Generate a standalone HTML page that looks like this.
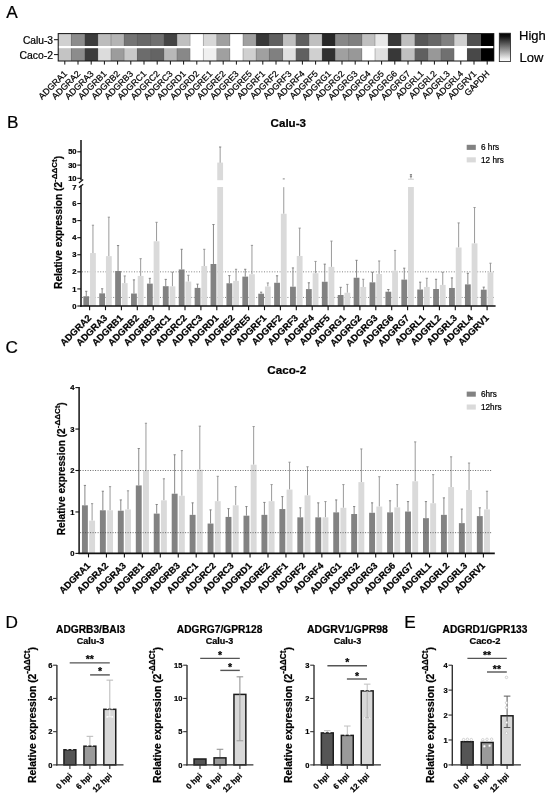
<!DOCTYPE html>
<html lang="en"><head><meta charset="utf-8"><title>Figure</title>
<style>html,body{margin:0;padding:0;background:#fff}svg{display:block}text{font-family:"Liberation Sans", Arial, Helvetica, sans-serif;stroke:#000;stroke-width:0.22px;paint-order:stroke}</style>
</head><body>
<svg width="550" height="794" viewBox="0 0 550 794">
<rect width="550" height="794" fill="#fff"/>
<text x="6.30" y="17.60" font-size="17.2" text-anchor="start" fill="#000">A</text>
<text x="7.10" y="128.10" font-size="17.2" text-anchor="start" fill="#000">B</text>
<text x="5.60" y="352.70" font-size="17.2" text-anchor="start" fill="#000">C</text>
<text x="5.40" y="628.10" font-size="17.2" text-anchor="start" fill="#000">D</text>
<text x="404.20" y="628.10" font-size="17.2" text-anchor="start" fill="#000">E</text>
<g shape-rendering="crispEdges">
<rect x="58.20" y="33.60" width="13.50" height="12.40" fill="#d0d0d0"/>
<rect x="58.20" y="48.20" width="13.50" height="12.80" fill="#c4c4c4"/>
<rect x="71.40" y="33.60" width="13.50" height="12.40" fill="#8c8c8c"/>
<rect x="71.40" y="48.20" width="13.50" height="12.80" fill="#8c8c8c"/>
<rect x="84.60" y="33.60" width="13.50" height="12.40" fill="#3c3c3c"/>
<rect x="84.60" y="48.20" width="13.50" height="12.80" fill="#3c3c3c"/>
<rect x="97.80" y="33.60" width="13.50" height="12.40" fill="#bcbcbc"/>
<rect x="97.80" y="48.20" width="13.50" height="12.80" fill="#dcdcdc"/>
<rect x="111.00" y="33.60" width="13.50" height="12.40" fill="#b4b4b4"/>
<rect x="111.00" y="48.20" width="13.50" height="12.80" fill="#9c9c9c"/>
<rect x="124.20" y="33.60" width="13.50" height="12.40" fill="#747474"/>
<rect x="124.20" y="48.20" width="13.50" height="12.80" fill="#c8c8c8"/>
<rect x="137.40" y="33.60" width="13.50" height="12.40" fill="#686868"/>
<rect x="137.40" y="48.20" width="13.50" height="12.80" fill="#6c6c6c"/>
<rect x="150.60" y="33.60" width="13.50" height="12.40" fill="#707070"/>
<rect x="150.60" y="48.20" width="13.50" height="12.80" fill="#646464"/>
<rect x="163.80" y="33.60" width="13.50" height="12.40" fill="#444444"/>
<rect x="163.80" y="48.20" width="13.50" height="12.80" fill="#b8b8b8"/>
<rect x="177.00" y="33.60" width="13.50" height="12.40" fill="#c0c0c0"/>
<rect x="177.00" y="48.20" width="13.50" height="12.80" fill="#888888"/>
<rect x="190.20" y="33.60" width="13.50" height="12.40" fill="#ffffff"/>
<rect x="190.20" y="48.20" width="13.50" height="12.80" fill="#ffffff"/>
<rect x="203.40" y="33.60" width="13.50" height="12.40" fill="#d8d8d8"/>
<rect x="203.40" y="48.20" width="13.50" height="12.80" fill="#f0f0f0"/>
<rect x="216.60" y="33.60" width="13.50" height="12.40" fill="#a0a0a0"/>
<rect x="216.60" y="48.20" width="13.50" height="12.80" fill="#a0a0a0"/>
<rect x="229.80" y="33.60" width="13.50" height="12.40" fill="#ffffff"/>
<rect x="229.80" y="48.20" width="13.50" height="12.80" fill="#ffffff"/>
<rect x="243.00" y="33.60" width="13.50" height="12.40" fill="#a0a0a0"/>
<rect x="243.00" y="48.20" width="13.50" height="12.80" fill="#d0d0d0"/>
<rect x="256.20" y="33.60" width="13.50" height="12.40" fill="#383838"/>
<rect x="256.20" y="48.20" width="13.50" height="12.80" fill="#a0a0a0"/>
<rect x="269.40" y="33.60" width="13.50" height="12.40" fill="#606060"/>
<rect x="269.40" y="48.20" width="13.50" height="12.80" fill="#808080"/>
<rect x="282.60" y="33.60" width="13.50" height="12.40" fill="#c0c0c0"/>
<rect x="282.60" y="48.20" width="13.50" height="12.80" fill="#e0e0e0"/>
<rect x="295.80" y="33.60" width="13.50" height="12.40" fill="#606060"/>
<rect x="295.80" y="48.20" width="13.50" height="12.80" fill="#606060"/>
<rect x="309.00" y="33.60" width="13.50" height="12.40" fill="#c0c0c0"/>
<rect x="309.00" y="48.20" width="13.50" height="12.80" fill="#d0d0d0"/>
<rect x="322.20" y="33.60" width="13.50" height="12.40" fill="#282828"/>
<rect x="322.20" y="48.20" width="13.50" height="12.80" fill="#303030"/>
<rect x="335.40" y="33.60" width="13.50" height="12.40" fill="#888888"/>
<rect x="335.40" y="48.20" width="13.50" height="12.80" fill="#a0a0a0"/>
<rect x="348.60" y="33.60" width="13.50" height="12.40" fill="#808080"/>
<rect x="348.60" y="48.20" width="13.50" height="12.80" fill="#989898"/>
<rect x="361.80" y="33.60" width="13.50" height="12.40" fill="#c0c0c0"/>
<rect x="361.80" y="48.20" width="13.50" height="12.80" fill="#ffffff"/>
<rect x="375.00" y="33.60" width="13.50" height="12.40" fill="#e8e8e8"/>
<rect x="375.00" y="48.20" width="13.50" height="12.80" fill="#e0e0e0"/>
<rect x="388.20" y="33.60" width="13.50" height="12.40" fill="#383838"/>
<rect x="388.20" y="48.20" width="13.50" height="12.80" fill="#383838"/>
<rect x="401.40" y="33.60" width="13.50" height="12.40" fill="#c0c0c0"/>
<rect x="401.40" y="48.20" width="13.50" height="12.80" fill="#c0c0c0"/>
<rect x="414.60" y="33.60" width="13.50" height="12.40" fill="#585858"/>
<rect x="414.60" y="48.20" width="13.50" height="12.80" fill="#606060"/>
<rect x="427.80" y="33.60" width="13.50" height="12.40" fill="#686868"/>
<rect x="427.80" y="48.20" width="13.50" height="12.80" fill="#989898"/>
<rect x="441.00" y="33.60" width="13.50" height="12.40" fill="#808080"/>
<rect x="441.00" y="48.20" width="13.50" height="12.80" fill="#707070"/>
<rect x="454.20" y="33.60" width="13.50" height="12.40" fill="#d0d0d0"/>
<rect x="454.20" y="48.20" width="13.50" height="12.80" fill="#ffffff"/>
<rect x="467.40" y="33.60" width="13.50" height="12.40" fill="#505050"/>
<rect x="467.40" y="48.20" width="13.50" height="12.80" fill="#484848"/>
<rect x="480.60" y="33.60" width="13.50" height="12.40" fill="#000000"/>
<rect x="480.60" y="48.20" width="13.50" height="12.80" fill="#000000"/>
</g>
<line x1="71.40" y1="33.60" x2="71.40" y2="46.00" stroke="#555" stroke-width="0.35"/>
<line x1="71.40" y1="48.20" x2="71.40" y2="61.00" stroke="#555" stroke-width="0.35"/>
<line x1="84.60" y1="33.60" x2="84.60" y2="46.00" stroke="#555" stroke-width="0.35"/>
<line x1="84.60" y1="48.20" x2="84.60" y2="61.00" stroke="#555" stroke-width="0.35"/>
<line x1="97.80" y1="33.60" x2="97.80" y2="46.00" stroke="#555" stroke-width="0.35"/>
<line x1="97.80" y1="48.20" x2="97.80" y2="61.00" stroke="#555" stroke-width="0.35"/>
<line x1="111.00" y1="33.60" x2="111.00" y2="46.00" stroke="#555" stroke-width="0.35"/>
<line x1="111.00" y1="48.20" x2="111.00" y2="61.00" stroke="#555" stroke-width="0.35"/>
<line x1="124.20" y1="33.60" x2="124.20" y2="46.00" stroke="#555" stroke-width="0.35"/>
<line x1="124.20" y1="48.20" x2="124.20" y2="61.00" stroke="#555" stroke-width="0.35"/>
<line x1="137.40" y1="33.60" x2="137.40" y2="46.00" stroke="#555" stroke-width="0.35"/>
<line x1="137.40" y1="48.20" x2="137.40" y2="61.00" stroke="#555" stroke-width="0.35"/>
<line x1="150.60" y1="33.60" x2="150.60" y2="46.00" stroke="#555" stroke-width="0.35"/>
<line x1="150.60" y1="48.20" x2="150.60" y2="61.00" stroke="#555" stroke-width="0.35"/>
<line x1="163.80" y1="33.60" x2="163.80" y2="46.00" stroke="#555" stroke-width="0.35"/>
<line x1="163.80" y1="48.20" x2="163.80" y2="61.00" stroke="#555" stroke-width="0.35"/>
<line x1="177.00" y1="33.60" x2="177.00" y2="46.00" stroke="#555" stroke-width="0.35"/>
<line x1="177.00" y1="48.20" x2="177.00" y2="61.00" stroke="#555" stroke-width="0.35"/>
<line x1="190.20" y1="33.60" x2="190.20" y2="46.00" stroke="#555" stroke-width="0.35"/>
<line x1="190.20" y1="48.20" x2="190.20" y2="61.00" stroke="#555" stroke-width="0.35"/>
<line x1="203.40" y1="33.60" x2="203.40" y2="46.00" stroke="#555" stroke-width="0.35"/>
<line x1="203.40" y1="48.20" x2="203.40" y2="61.00" stroke="#555" stroke-width="0.35"/>
<line x1="216.60" y1="33.60" x2="216.60" y2="46.00" stroke="#555" stroke-width="0.35"/>
<line x1="216.60" y1="48.20" x2="216.60" y2="61.00" stroke="#555" stroke-width="0.35"/>
<line x1="229.80" y1="33.60" x2="229.80" y2="46.00" stroke="#555" stroke-width="0.35"/>
<line x1="229.80" y1="48.20" x2="229.80" y2="61.00" stroke="#555" stroke-width="0.35"/>
<line x1="243.00" y1="33.60" x2="243.00" y2="46.00" stroke="#555" stroke-width="0.35"/>
<line x1="243.00" y1="48.20" x2="243.00" y2="61.00" stroke="#555" stroke-width="0.35"/>
<line x1="256.20" y1="33.60" x2="256.20" y2="46.00" stroke="#555" stroke-width="0.35"/>
<line x1="256.20" y1="48.20" x2="256.20" y2="61.00" stroke="#555" stroke-width="0.35"/>
<line x1="269.40" y1="33.60" x2="269.40" y2="46.00" stroke="#555" stroke-width="0.35"/>
<line x1="269.40" y1="48.20" x2="269.40" y2="61.00" stroke="#555" stroke-width="0.35"/>
<line x1="282.60" y1="33.60" x2="282.60" y2="46.00" stroke="#555" stroke-width="0.35"/>
<line x1="282.60" y1="48.20" x2="282.60" y2="61.00" stroke="#555" stroke-width="0.35"/>
<line x1="295.80" y1="33.60" x2="295.80" y2="46.00" stroke="#555" stroke-width="0.35"/>
<line x1="295.80" y1="48.20" x2="295.80" y2="61.00" stroke="#555" stroke-width="0.35"/>
<line x1="309.00" y1="33.60" x2="309.00" y2="46.00" stroke="#555" stroke-width="0.35"/>
<line x1="309.00" y1="48.20" x2="309.00" y2="61.00" stroke="#555" stroke-width="0.35"/>
<line x1="322.20" y1="33.60" x2="322.20" y2="46.00" stroke="#555" stroke-width="0.35"/>
<line x1="322.20" y1="48.20" x2="322.20" y2="61.00" stroke="#555" stroke-width="0.35"/>
<line x1="335.40" y1="33.60" x2="335.40" y2="46.00" stroke="#555" stroke-width="0.35"/>
<line x1="335.40" y1="48.20" x2="335.40" y2="61.00" stroke="#555" stroke-width="0.35"/>
<line x1="348.60" y1="33.60" x2="348.60" y2="46.00" stroke="#555" stroke-width="0.35"/>
<line x1="348.60" y1="48.20" x2="348.60" y2="61.00" stroke="#555" stroke-width="0.35"/>
<line x1="361.80" y1="33.60" x2="361.80" y2="46.00" stroke="#555" stroke-width="0.35"/>
<line x1="361.80" y1="48.20" x2="361.80" y2="61.00" stroke="#555" stroke-width="0.35"/>
<line x1="375.00" y1="33.60" x2="375.00" y2="46.00" stroke="#555" stroke-width="0.35"/>
<line x1="375.00" y1="48.20" x2="375.00" y2="61.00" stroke="#555" stroke-width="0.35"/>
<line x1="388.20" y1="33.60" x2="388.20" y2="46.00" stroke="#555" stroke-width="0.35"/>
<line x1="388.20" y1="48.20" x2="388.20" y2="61.00" stroke="#555" stroke-width="0.35"/>
<line x1="401.40" y1="33.60" x2="401.40" y2="46.00" stroke="#555" stroke-width="0.35"/>
<line x1="401.40" y1="48.20" x2="401.40" y2="61.00" stroke="#555" stroke-width="0.35"/>
<line x1="414.60" y1="33.60" x2="414.60" y2="46.00" stroke="#555" stroke-width="0.35"/>
<line x1="414.60" y1="48.20" x2="414.60" y2="61.00" stroke="#555" stroke-width="0.35"/>
<line x1="427.80" y1="33.60" x2="427.80" y2="46.00" stroke="#555" stroke-width="0.35"/>
<line x1="427.80" y1="48.20" x2="427.80" y2="61.00" stroke="#555" stroke-width="0.35"/>
<line x1="441.00" y1="33.60" x2="441.00" y2="46.00" stroke="#555" stroke-width="0.35"/>
<line x1="441.00" y1="48.20" x2="441.00" y2="61.00" stroke="#555" stroke-width="0.35"/>
<line x1="454.20" y1="33.60" x2="454.20" y2="46.00" stroke="#555" stroke-width="0.35"/>
<line x1="454.20" y1="48.20" x2="454.20" y2="61.00" stroke="#555" stroke-width="0.35"/>
<line x1="467.40" y1="33.60" x2="467.40" y2="46.00" stroke="#555" stroke-width="0.35"/>
<line x1="467.40" y1="48.20" x2="467.40" y2="61.00" stroke="#555" stroke-width="0.35"/>
<line x1="480.60" y1="33.60" x2="480.60" y2="46.00" stroke="#555" stroke-width="0.35"/>
<line x1="480.60" y1="48.20" x2="480.60" y2="61.00" stroke="#555" stroke-width="0.35"/>
<rect x="58.2" y="46.0" width="435.6" height="2.200000000000003" fill="#fff"/>
<rect x="58.2" y="33.6" width="435.6" height="27.4" fill="none" stroke="#111" stroke-width="1"/>
<line x1="54.00" y1="39.70" x2="58.20" y2="39.70" stroke="#111" stroke-width="1"/>
<line x1="54.00" y1="54.60" x2="58.20" y2="54.60" stroke="#111" stroke-width="1"/>
<text x="53.00" y="43.50" font-size="10.2" text-anchor="end" fill="#000">Calu-3</text>
<text x="53.00" y="58.90" font-size="10.4" text-anchor="end" fill="#000">Caco-2</text>
<line x1="64.80" y1="61.00" x2="64.80" y2="64.60" stroke="#111" stroke-width="1"/>
<text x="67.70" y="74.30" font-size="8.8" text-anchor="end" fill="#000" transform="rotate(-45 67.70 74.30)">ADGRA1</text>
<line x1="78.00" y1="61.00" x2="78.00" y2="64.60" stroke="#111" stroke-width="1"/>
<text x="80.90" y="74.30" font-size="8.8" text-anchor="end" fill="#000" transform="rotate(-45 80.90 74.30)">ADGRA2</text>
<line x1="91.20" y1="61.00" x2="91.20" y2="64.60" stroke="#111" stroke-width="1"/>
<text x="94.10" y="74.30" font-size="8.8" text-anchor="end" fill="#000" transform="rotate(-45 94.10 74.30)">ADGRA3</text>
<line x1="104.40" y1="61.00" x2="104.40" y2="64.60" stroke="#111" stroke-width="1"/>
<text x="107.30" y="74.30" font-size="8.8" text-anchor="end" fill="#000" transform="rotate(-45 107.30 74.30)">ADGRB1</text>
<line x1="117.60" y1="61.00" x2="117.60" y2="64.60" stroke="#111" stroke-width="1"/>
<text x="120.50" y="74.30" font-size="8.8" text-anchor="end" fill="#000" transform="rotate(-45 120.50 74.30)">ADGRB2</text>
<line x1="130.80" y1="61.00" x2="130.80" y2="64.60" stroke="#111" stroke-width="1"/>
<text x="133.70" y="74.30" font-size="8.8" text-anchor="end" fill="#000" transform="rotate(-45 133.70 74.30)">ADGRB3</text>
<line x1="144.00" y1="61.00" x2="144.00" y2="64.60" stroke="#111" stroke-width="1"/>
<text x="146.90" y="74.30" font-size="8.8" text-anchor="end" fill="#000" transform="rotate(-45 146.90 74.30)">ADGRC1</text>
<line x1="157.20" y1="61.00" x2="157.20" y2="64.60" stroke="#111" stroke-width="1"/>
<text x="160.10" y="74.30" font-size="8.8" text-anchor="end" fill="#000" transform="rotate(-45 160.10 74.30)">ADGRC2</text>
<line x1="170.40" y1="61.00" x2="170.40" y2="64.60" stroke="#111" stroke-width="1"/>
<text x="173.30" y="74.30" font-size="8.8" text-anchor="end" fill="#000" transform="rotate(-45 173.30 74.30)">ADGRC3</text>
<line x1="183.60" y1="61.00" x2="183.60" y2="64.60" stroke="#111" stroke-width="1"/>
<text x="186.50" y="74.30" font-size="8.8" text-anchor="end" fill="#000" transform="rotate(-45 186.50 74.30)">ADGRD1</text>
<line x1="196.80" y1="61.00" x2="196.80" y2="64.60" stroke="#111" stroke-width="1"/>
<text x="199.70" y="74.30" font-size="8.8" text-anchor="end" fill="#000" transform="rotate(-45 199.70 74.30)">ADGRD2</text>
<line x1="210.00" y1="61.00" x2="210.00" y2="64.60" stroke="#111" stroke-width="1"/>
<text x="212.90" y="74.30" font-size="8.8" text-anchor="end" fill="#000" transform="rotate(-45 212.90 74.30)">ADGRE1</text>
<line x1="223.20" y1="61.00" x2="223.20" y2="64.60" stroke="#111" stroke-width="1"/>
<text x="226.10" y="74.30" font-size="8.8" text-anchor="end" fill="#000" transform="rotate(-45 226.10 74.30)">ADGRE2</text>
<line x1="236.40" y1="61.00" x2="236.40" y2="64.60" stroke="#111" stroke-width="1"/>
<text x="239.30" y="74.30" font-size="8.8" text-anchor="end" fill="#000" transform="rotate(-45 239.30 74.30)">ADGRE3</text>
<line x1="249.60" y1="61.00" x2="249.60" y2="64.60" stroke="#111" stroke-width="1"/>
<text x="252.50" y="74.30" font-size="8.8" text-anchor="end" fill="#000" transform="rotate(-45 252.50 74.30)">ADGRE5</text>
<line x1="262.80" y1="61.00" x2="262.80" y2="64.60" stroke="#111" stroke-width="1"/>
<text x="265.70" y="74.30" font-size="8.8" text-anchor="end" fill="#000" transform="rotate(-45 265.70 74.30)">ADGRF1</text>
<line x1="276.00" y1="61.00" x2="276.00" y2="64.60" stroke="#111" stroke-width="1"/>
<text x="278.90" y="74.30" font-size="8.8" text-anchor="end" fill="#000" transform="rotate(-45 278.90 74.30)">ADGRF2</text>
<line x1="289.20" y1="61.00" x2="289.20" y2="64.60" stroke="#111" stroke-width="1"/>
<text x="292.10" y="74.30" font-size="8.8" text-anchor="end" fill="#000" transform="rotate(-45 292.10 74.30)">ADGRF3</text>
<line x1="302.40" y1="61.00" x2="302.40" y2="64.60" stroke="#111" stroke-width="1"/>
<text x="305.30" y="74.30" font-size="8.8" text-anchor="end" fill="#000" transform="rotate(-45 305.30 74.30)">ADGRF4</text>
<line x1="315.60" y1="61.00" x2="315.60" y2="64.60" stroke="#111" stroke-width="1"/>
<text x="318.50" y="74.30" font-size="8.8" text-anchor="end" fill="#000" transform="rotate(-45 318.50 74.30)">ADGRF5</text>
<line x1="328.80" y1="61.00" x2="328.80" y2="64.60" stroke="#111" stroke-width="1"/>
<text x="331.70" y="74.30" font-size="8.8" text-anchor="end" fill="#000" transform="rotate(-45 331.70 74.30)">ADGRG1</text>
<line x1="342.00" y1="61.00" x2="342.00" y2="64.60" stroke="#111" stroke-width="1"/>
<text x="344.90" y="74.30" font-size="8.8" text-anchor="end" fill="#000" transform="rotate(-45 344.90 74.30)">ADGRG2</text>
<line x1="355.20" y1="61.00" x2="355.20" y2="64.60" stroke="#111" stroke-width="1"/>
<text x="358.10" y="74.30" font-size="8.8" text-anchor="end" fill="#000" transform="rotate(-45 358.10 74.30)">ADGRG3</text>
<line x1="368.40" y1="61.00" x2="368.40" y2="64.60" stroke="#111" stroke-width="1"/>
<text x="371.30" y="74.30" font-size="8.8" text-anchor="end" fill="#000" transform="rotate(-45 371.30 74.30)">ADGRG4</text>
<line x1="381.60" y1="61.00" x2="381.60" y2="64.60" stroke="#111" stroke-width="1"/>
<text x="384.50" y="74.30" font-size="8.8" text-anchor="end" fill="#000" transform="rotate(-45 384.50 74.30)">ADGRG5</text>
<line x1="394.80" y1="61.00" x2="394.80" y2="64.60" stroke="#111" stroke-width="1"/>
<text x="397.70" y="74.30" font-size="8.8" text-anchor="end" fill="#000" transform="rotate(-45 397.70 74.30)">ADGRG6</text>
<line x1="408.00" y1="61.00" x2="408.00" y2="64.60" stroke="#111" stroke-width="1"/>
<text x="410.90" y="74.30" font-size="8.8" text-anchor="end" fill="#000" transform="rotate(-45 410.90 74.30)">ADGRG7</text>
<line x1="421.20" y1="61.00" x2="421.20" y2="64.60" stroke="#111" stroke-width="1"/>
<text x="424.10" y="74.30" font-size="8.8" text-anchor="end" fill="#000" transform="rotate(-45 424.10 74.30)">ADGRL1</text>
<line x1="434.40" y1="61.00" x2="434.40" y2="64.60" stroke="#111" stroke-width="1"/>
<text x="437.30" y="74.30" font-size="8.8" text-anchor="end" fill="#000" transform="rotate(-45 437.30 74.30)">ADGRL2</text>
<line x1="447.60" y1="61.00" x2="447.60" y2="64.60" stroke="#111" stroke-width="1"/>
<text x="450.50" y="74.30" font-size="8.8" text-anchor="end" fill="#000" transform="rotate(-45 450.50 74.30)">ADGRL3</text>
<line x1="460.80" y1="61.00" x2="460.80" y2="64.60" stroke="#111" stroke-width="1"/>
<text x="463.70" y="74.30" font-size="8.8" text-anchor="end" fill="#000" transform="rotate(-45 463.70 74.30)">ADGRL4</text>
<line x1="474.00" y1="61.00" x2="474.00" y2="64.60" stroke="#111" stroke-width="1"/>
<text x="476.90" y="74.30" font-size="8.8" text-anchor="end" fill="#000" transform="rotate(-45 476.90 74.30)">ADGRV1</text>
<line x1="487.20" y1="61.00" x2="487.20" y2="64.60" stroke="#111" stroke-width="1"/>
<text x="490.10" y="74.30" font-size="8.8" text-anchor="end" fill="#000" transform="rotate(-45 490.10 74.30)">GAPDH</text>
<defs><linearGradient id="cb" x1="0" y1="0" x2="0" y2="1"><stop offset="0" stop-color="#000"/><stop offset="0.12" stop-color="#111"/><stop offset="0.9" stop-color="#eee"/><stop offset="1" stop-color="#fff"/></linearGradient></defs>
<rect x="499.3" y="33.2" width="11.2" height="28.4" fill="url(#cb)" stroke="#222" stroke-width="0.8"/>
<text x="519.00" y="39.50" font-size="13.0" text-anchor="start" fill="#000">High</text>
<text x="519.50" y="62.00" font-size="13.0" text-anchor="start" fill="#000">Low</text>
<g>
<line x1="82.00" y1="271.84" x2="494.00" y2="271.84" stroke="#666" stroke-width="0.8" stroke-dasharray="1 1.6"/>
<line x1="82.00" y1="297.46" x2="494.00" y2="297.46" stroke="#666" stroke-width="0.8" stroke-dasharray="1 1.6"/>
<line x1="86.25" y1="291.31" x2="86.25" y2="296.26" stroke="#7c7c7c" stroke-width="0.9"/>
<line x1="85.15" y1="291.31" x2="87.35" y2="291.31" stroke="#7c7c7c" stroke-width="0.9"/>
<rect x="83.35" y="296.26" width="5.80" height="9.74" fill="#828282"/>
<line x1="92.95" y1="225.21" x2="92.95" y2="253.05" stroke="#8e8e8e" stroke-width="0.9"/>
<line x1="91.85" y1="225.21" x2="94.05" y2="225.21" stroke="#8e8e8e" stroke-width="0.9"/>
<rect x="90.05" y="253.05" width="5.80" height="52.95" fill="#dadada"/>
<line x1="102.15" y1="288.75" x2="102.15" y2="293.36" stroke="#7c7c7c" stroke-width="0.9"/>
<line x1="101.05" y1="288.75" x2="103.25" y2="288.75" stroke="#7c7c7c" stroke-width="0.9"/>
<rect x="99.25" y="293.36" width="5.80" height="12.64" fill="#828282"/>
<line x1="108.85" y1="217.18" x2="108.85" y2="256.13" stroke="#8e8e8e" stroke-width="0.9"/>
<line x1="107.75" y1="217.18" x2="109.95" y2="217.18" stroke="#8e8e8e" stroke-width="0.9"/>
<rect x="105.95" y="256.13" width="5.80" height="49.87" fill="#dadada"/>
<line x1="118.05" y1="245.54" x2="118.05" y2="270.99" stroke="#7c7c7c" stroke-width="0.9"/>
<line x1="116.95" y1="245.54" x2="119.15" y2="245.54" stroke="#7c7c7c" stroke-width="0.9"/>
<rect x="115.15" y="270.99" width="5.80" height="35.01" fill="#828282"/>
<line x1="124.75" y1="275.94" x2="124.75" y2="283.11" stroke="#8e8e8e" stroke-width="0.9"/>
<line x1="123.65" y1="275.94" x2="125.85" y2="275.94" stroke="#8e8e8e" stroke-width="0.9"/>
<rect x="121.85" y="283.11" width="5.80" height="22.89" fill="#dadada"/>
<line x1="133.95" y1="279.87" x2="133.95" y2="293.53" stroke="#7c7c7c" stroke-width="0.9"/>
<line x1="132.85" y1="279.87" x2="135.05" y2="279.87" stroke="#7c7c7c" stroke-width="0.9"/>
<rect x="131.05" y="293.53" width="5.80" height="12.47" fill="#828282"/>
<line x1="140.65" y1="258.69" x2="140.65" y2="275.94" stroke="#8e8e8e" stroke-width="0.9"/>
<line x1="139.55" y1="258.69" x2="141.75" y2="258.69" stroke="#8e8e8e" stroke-width="0.9"/>
<rect x="137.75" y="275.94" width="5.80" height="30.06" fill="#dadada"/>
<line x1="149.85" y1="278.33" x2="149.85" y2="283.63" stroke="#7c7c7c" stroke-width="0.9"/>
<line x1="148.75" y1="278.33" x2="150.95" y2="278.33" stroke="#7c7c7c" stroke-width="0.9"/>
<rect x="146.95" y="283.63" width="5.80" height="22.37" fill="#828282"/>
<line x1="156.55" y1="222.31" x2="156.55" y2="241.27" stroke="#8e8e8e" stroke-width="0.9"/>
<line x1="155.45" y1="222.31" x2="157.65" y2="222.31" stroke="#8e8e8e" stroke-width="0.9"/>
<rect x="153.65" y="241.27" width="5.80" height="64.73" fill="#dadada"/>
<line x1="165.75" y1="279.36" x2="165.75" y2="286.19" stroke="#7c7c7c" stroke-width="0.9"/>
<line x1="164.65" y1="279.36" x2="166.85" y2="279.36" stroke="#7c7c7c" stroke-width="0.9"/>
<rect x="162.85" y="286.19" width="5.80" height="19.81" fill="#828282"/>
<line x1="172.45" y1="272.18" x2="172.45" y2="286.36" stroke="#8e8e8e" stroke-width="0.9"/>
<line x1="171.35" y1="272.18" x2="173.55" y2="272.18" stroke="#8e8e8e" stroke-width="0.9"/>
<rect x="169.55" y="286.36" width="5.80" height="19.64" fill="#dadada"/>
<line x1="181.65" y1="249.29" x2="181.65" y2="269.45" stroke="#7c7c7c" stroke-width="0.9"/>
<line x1="180.55" y1="249.29" x2="182.75" y2="249.29" stroke="#7c7c7c" stroke-width="0.9"/>
<rect x="178.75" y="269.45" width="5.80" height="36.55" fill="#828282"/>
<line x1="188.35" y1="275.26" x2="188.35" y2="281.58" stroke="#8e8e8e" stroke-width="0.9"/>
<line x1="187.25" y1="275.26" x2="189.45" y2="275.26" stroke="#8e8e8e" stroke-width="0.9"/>
<rect x="185.45" y="281.58" width="5.80" height="24.42" fill="#dadada"/>
<line x1="197.55" y1="284.14" x2="197.55" y2="287.90" stroke="#7c7c7c" stroke-width="0.9"/>
<line x1="196.45" y1="284.14" x2="198.65" y2="284.14" stroke="#7c7c7c" stroke-width="0.9"/>
<rect x="194.65" y="287.90" width="5.80" height="18.10" fill="#828282"/>
<line x1="204.25" y1="249.29" x2="204.25" y2="266.03" stroke="#8e8e8e" stroke-width="0.9"/>
<line x1="203.15" y1="249.29" x2="205.35" y2="249.29" stroke="#8e8e8e" stroke-width="0.9"/>
<rect x="201.35" y="266.03" width="5.80" height="39.97" fill="#dadada"/>
<line x1="213.45" y1="224.53" x2="213.45" y2="263.98" stroke="#7c7c7c" stroke-width="0.9"/>
<line x1="212.35" y1="224.53" x2="214.55" y2="224.53" stroke="#7c7c7c" stroke-width="0.9"/>
<rect x="210.55" y="263.98" width="5.80" height="42.02" fill="#828282"/>
<rect x="217.25" y="187.00" width="5.80" height="119.00" fill="#dadada"/>
<line x1="220.15" y1="147.00" x2="220.15" y2="163.00" stroke="#8e8e8e" stroke-width="0.9"/>
<line x1="219.05" y1="147.00" x2="221.25" y2="147.00" stroke="#7c7c7c" stroke-width="0.9"/>
<rect x="217.25" y="162.60" width="5.80" height="17.60" fill="#dadada"/>
<line x1="229.35" y1="275.60" x2="229.35" y2="283.28" stroke="#7c7c7c" stroke-width="0.9"/>
<line x1="228.25" y1="275.60" x2="230.45" y2="275.60" stroke="#7c7c7c" stroke-width="0.9"/>
<rect x="226.45" y="283.28" width="5.80" height="22.72" fill="#828282"/>
<line x1="236.05" y1="269.28" x2="236.05" y2="280.89" stroke="#8e8e8e" stroke-width="0.9"/>
<line x1="234.95" y1="269.28" x2="237.15" y2="269.28" stroke="#8e8e8e" stroke-width="0.9"/>
<rect x="233.15" y="280.89" width="5.80" height="25.11" fill="#dadada"/>
<line x1="245.25" y1="269.28" x2="245.25" y2="276.62" stroke="#7c7c7c" stroke-width="0.9"/>
<line x1="244.15" y1="269.28" x2="246.35" y2="269.28" stroke="#7c7c7c" stroke-width="0.9"/>
<rect x="242.35" y="276.62" width="5.80" height="29.38" fill="#828282"/>
<line x1="251.95" y1="245.37" x2="251.95" y2="274.23" stroke="#8e8e8e" stroke-width="0.9"/>
<line x1="250.85" y1="245.37" x2="253.05" y2="245.37" stroke="#8e8e8e" stroke-width="0.9"/>
<rect x="249.05" y="274.23" width="5.80" height="31.77" fill="#dadada"/>
<line x1="261.15" y1="292.17" x2="261.15" y2="293.70" stroke="#7c7c7c" stroke-width="0.9"/>
<line x1="260.05" y1="292.17" x2="262.25" y2="292.17" stroke="#7c7c7c" stroke-width="0.9"/>
<rect x="258.25" y="293.70" width="5.80" height="12.30" fill="#828282"/>
<line x1="267.85" y1="282.94" x2="267.85" y2="286.53" stroke="#8e8e8e" stroke-width="0.9"/>
<line x1="266.75" y1="282.94" x2="268.95" y2="282.94" stroke="#8e8e8e" stroke-width="0.9"/>
<rect x="264.95" y="286.53" width="5.80" height="19.47" fill="#dadada"/>
<line x1="277.05" y1="275.77" x2="277.05" y2="282.77" stroke="#7c7c7c" stroke-width="0.9"/>
<line x1="275.95" y1="275.77" x2="278.15" y2="275.77" stroke="#7c7c7c" stroke-width="0.9"/>
<rect x="274.15" y="282.77" width="5.80" height="23.23" fill="#828282"/>
<line x1="283.75" y1="187.20" x2="283.75" y2="213.77" stroke="#8e8e8e" stroke-width="0.9"/>
<line x1="282.75" y1="178.90" x2="284.75" y2="178.90" stroke="#777" stroke-width="0.9"/>
<rect x="280.85" y="213.77" width="5.80" height="92.23" fill="#dadada"/>
<line x1="292.95" y1="267.91" x2="292.95" y2="286.70" stroke="#7c7c7c" stroke-width="0.9"/>
<line x1="291.85" y1="267.91" x2="294.05" y2="267.91" stroke="#7c7c7c" stroke-width="0.9"/>
<rect x="290.05" y="286.70" width="5.80" height="19.30" fill="#828282"/>
<line x1="299.65" y1="228.12" x2="299.65" y2="255.96" stroke="#8e8e8e" stroke-width="0.9"/>
<line x1="298.55" y1="228.12" x2="300.75" y2="228.12" stroke="#8e8e8e" stroke-width="0.9"/>
<rect x="296.75" y="255.96" width="5.80" height="50.04" fill="#dadada"/>
<line x1="308.85" y1="282.77" x2="308.85" y2="289.09" stroke="#7c7c7c" stroke-width="0.9"/>
<line x1="307.75" y1="282.77" x2="309.95" y2="282.77" stroke="#7c7c7c" stroke-width="0.9"/>
<rect x="305.95" y="289.09" width="5.80" height="16.91" fill="#828282"/>
<line x1="315.55" y1="261.42" x2="315.55" y2="273.21" stroke="#8e8e8e" stroke-width="0.9"/>
<line x1="314.45" y1="261.42" x2="316.65" y2="261.42" stroke="#8e8e8e" stroke-width="0.9"/>
<rect x="312.65" y="273.21" width="5.80" height="32.79" fill="#dadada"/>
<line x1="324.75" y1="264.15" x2="324.75" y2="281.75" stroke="#7c7c7c" stroke-width="0.9"/>
<line x1="323.65" y1="264.15" x2="325.85" y2="264.15" stroke="#7c7c7c" stroke-width="0.9"/>
<rect x="321.85" y="281.75" width="5.80" height="24.25" fill="#828282"/>
<line x1="331.45" y1="241.10" x2="331.45" y2="266.89" stroke="#8e8e8e" stroke-width="0.9"/>
<line x1="330.35" y1="241.10" x2="332.55" y2="241.10" stroke="#8e8e8e" stroke-width="0.9"/>
<rect x="328.55" y="266.89" width="5.80" height="39.11" fill="#dadada"/>
<line x1="340.65" y1="287.30" x2="340.65" y2="294.98" stroke="#7c7c7c" stroke-width="0.9"/>
<line x1="339.55" y1="287.30" x2="341.75" y2="287.30" stroke="#7c7c7c" stroke-width="0.9"/>
<rect x="337.75" y="294.98" width="5.80" height="11.02" fill="#828282"/>
<line x1="347.35" y1="284.39" x2="347.35" y2="292.76" stroke="#8e8e8e" stroke-width="0.9"/>
<line x1="346.25" y1="284.39" x2="348.45" y2="284.39" stroke="#8e8e8e" stroke-width="0.9"/>
<rect x="344.45" y="292.76" width="5.80" height="13.24" fill="#dadada"/>
<line x1="356.55" y1="260.31" x2="356.55" y2="277.73" stroke="#7c7c7c" stroke-width="0.9"/>
<line x1="355.45" y1="260.31" x2="357.65" y2="260.31" stroke="#7c7c7c" stroke-width="0.9"/>
<rect x="353.65" y="277.73" width="5.80" height="28.27" fill="#828282"/>
<line x1="363.25" y1="279.27" x2="363.25" y2="286.96" stroke="#8e8e8e" stroke-width="0.9"/>
<line x1="362.15" y1="279.27" x2="364.35" y2="279.27" stroke="#8e8e8e" stroke-width="0.9"/>
<rect x="360.35" y="286.96" width="5.80" height="19.04" fill="#dadada"/>
<line x1="372.45" y1="272.27" x2="372.45" y2="282.34" stroke="#7c7c7c" stroke-width="0.9"/>
<line x1="371.35" y1="272.27" x2="373.55" y2="272.27" stroke="#7c7c7c" stroke-width="0.9"/>
<rect x="369.55" y="282.34" width="5.80" height="23.66" fill="#828282"/>
<line x1="379.15" y1="260.99" x2="379.15" y2="273.98" stroke="#8e8e8e" stroke-width="0.9"/>
<line x1="378.05" y1="260.99" x2="380.25" y2="260.99" stroke="#8e8e8e" stroke-width="0.9"/>
<rect x="376.25" y="273.98" width="5.80" height="32.02" fill="#dadada"/>
<line x1="388.35" y1="289.52" x2="388.35" y2="291.74" stroke="#7c7c7c" stroke-width="0.9"/>
<line x1="387.25" y1="289.52" x2="389.45" y2="289.52" stroke="#7c7c7c" stroke-width="0.9"/>
<rect x="385.45" y="291.74" width="5.80" height="14.26" fill="#828282"/>
<line x1="395.05" y1="250.40" x2="395.05" y2="270.73" stroke="#8e8e8e" stroke-width="0.9"/>
<line x1="393.95" y1="250.40" x2="396.15" y2="250.40" stroke="#8e8e8e" stroke-width="0.9"/>
<rect x="392.15" y="270.73" width="5.80" height="35.27" fill="#dadada"/>
<line x1="404.25" y1="268.17" x2="404.25" y2="279.61" stroke="#7c7c7c" stroke-width="0.9"/>
<line x1="403.15" y1="268.17" x2="405.35" y2="268.17" stroke="#7c7c7c" stroke-width="0.9"/>
<rect x="401.35" y="279.61" width="5.80" height="26.39" fill="#828282"/>
<rect x="408.05" y="187.00" width="5.80" height="119.00" fill="#dadada"/>
<line x1="410.95" y1="174.60" x2="410.95" y2="178.60" stroke="#7c7c7c" stroke-width="0.9"/>
<line x1="409.85" y1="174.60" x2="412.05" y2="174.60" stroke="#7c7c7c" stroke-width="0.9"/>
<line x1="409.85" y1="176.30" x2="412.05" y2="176.30" stroke="#7c7c7c" stroke-width="0.9"/>
<rect x="408.05" y="178.60" width="5.80" height="1.40" fill="#dadada"/>
<line x1="420.15" y1="282.17" x2="420.15" y2="289.52" stroke="#7c7c7c" stroke-width="0.9"/>
<line x1="419.05" y1="282.17" x2="421.25" y2="282.17" stroke="#7c7c7c" stroke-width="0.9"/>
<rect x="417.25" y="289.52" width="5.80" height="16.48" fill="#828282"/>
<line x1="426.85" y1="278.25" x2="426.85" y2="286.96" stroke="#8e8e8e" stroke-width="0.9"/>
<line x1="425.75" y1="278.25" x2="427.95" y2="278.25" stroke="#8e8e8e" stroke-width="0.9"/>
<rect x="423.95" y="286.96" width="5.80" height="19.04" fill="#dadada"/>
<line x1="436.05" y1="279.27" x2="436.05" y2="289.01" stroke="#7c7c7c" stroke-width="0.9"/>
<line x1="434.95" y1="279.27" x2="437.15" y2="279.27" stroke="#7c7c7c" stroke-width="0.9"/>
<rect x="433.15" y="289.01" width="5.80" height="16.99" fill="#828282"/>
<line x1="442.75" y1="272.27" x2="442.75" y2="284.91" stroke="#8e8e8e" stroke-width="0.9"/>
<line x1="441.65" y1="272.27" x2="443.85" y2="272.27" stroke="#8e8e8e" stroke-width="0.9"/>
<rect x="439.85" y="284.91" width="5.80" height="21.09" fill="#dadada"/>
<line x1="451.95" y1="277.90" x2="451.95" y2="287.98" stroke="#7c7c7c" stroke-width="0.9"/>
<line x1="450.85" y1="277.90" x2="453.05" y2="277.90" stroke="#7c7c7c" stroke-width="0.9"/>
<rect x="449.05" y="287.98" width="5.80" height="18.02" fill="#828282"/>
<line x1="458.65" y1="222.91" x2="458.65" y2="247.50" stroke="#8e8e8e" stroke-width="0.9"/>
<line x1="457.55" y1="222.91" x2="459.75" y2="222.91" stroke="#8e8e8e" stroke-width="0.9"/>
<rect x="455.75" y="247.50" width="5.80" height="58.50" fill="#dadada"/>
<line x1="467.85" y1="273.29" x2="467.85" y2="284.39" stroke="#7c7c7c" stroke-width="0.9"/>
<line x1="466.75" y1="273.29" x2="468.95" y2="273.29" stroke="#7c7c7c" stroke-width="0.9"/>
<rect x="464.95" y="284.39" width="5.80" height="21.61" fill="#828282"/>
<line x1="474.55" y1="207.53" x2="474.55" y2="243.40" stroke="#8e8e8e" stroke-width="0.9"/>
<line x1="473.45" y1="207.53" x2="475.65" y2="207.53" stroke="#8e8e8e" stroke-width="0.9"/>
<rect x="471.65" y="243.40" width="5.80" height="62.60" fill="#dadada"/>
<line x1="483.75" y1="287.13" x2="483.75" y2="289.69" stroke="#7c7c7c" stroke-width="0.9"/>
<line x1="482.65" y1="287.13" x2="484.85" y2="287.13" stroke="#7c7c7c" stroke-width="0.9"/>
<rect x="480.85" y="289.69" width="5.80" height="16.31" fill="#828282"/>
<line x1="490.45" y1="263.21" x2="490.45" y2="272.27" stroke="#8e8e8e" stroke-width="0.9"/>
<line x1="489.35" y1="263.21" x2="491.55" y2="263.21" stroke="#8e8e8e" stroke-width="0.9"/>
<rect x="487.55" y="272.27" width="5.80" height="33.73" fill="#dadada"/>
</g>
<line x1="81.00" y1="139.90" x2="81.00" y2="180.20" stroke="#111" stroke-width="1.5"/>
<line x1="81.00" y1="185.60" x2="81.00" y2="306.70" stroke="#111" stroke-width="1.5"/>
<line x1="78.90" y1="182.90" x2="83.20" y2="179.60" stroke="#111" stroke-width="1.2"/>
<line x1="78.90" y1="187.60" x2="83.20" y2="184.30" stroke="#111" stroke-width="1.2"/>
<line x1="80.30" y1="306.00" x2="495.60" y2="306.00" stroke="#111" stroke-width="1.6"/>
<line x1="77.30" y1="306.00" x2="81.00" y2="306.00" stroke="#111" stroke-width="1.1"/>
<text x="76.60" y="308.60" font-size="7.6" font-weight="bold" text-anchor="end" fill="#000">0</text>
<line x1="77.30" y1="288.92" x2="81.00" y2="288.92" stroke="#111" stroke-width="1.1"/>
<text x="76.60" y="291.52" font-size="7.6" font-weight="bold" text-anchor="end" fill="#000">1</text>
<line x1="77.30" y1="271.84" x2="81.00" y2="271.84" stroke="#111" stroke-width="1.1"/>
<text x="76.60" y="274.44" font-size="7.6" font-weight="bold" text-anchor="end" fill="#000">2</text>
<line x1="77.30" y1="254.76" x2="81.00" y2="254.76" stroke="#111" stroke-width="1.1"/>
<text x="76.60" y="257.36" font-size="7.6" font-weight="bold" text-anchor="end" fill="#000">3</text>
<line x1="77.30" y1="237.68" x2="81.00" y2="237.68" stroke="#111" stroke-width="1.1"/>
<text x="76.60" y="240.28" font-size="7.6" font-weight="bold" text-anchor="end" fill="#000">4</text>
<line x1="77.30" y1="220.60" x2="81.00" y2="220.60" stroke="#111" stroke-width="1.1"/>
<text x="76.60" y="223.20" font-size="7.6" font-weight="bold" text-anchor="end" fill="#000">5</text>
<line x1="77.30" y1="203.52" x2="81.00" y2="203.52" stroke="#111" stroke-width="1.1"/>
<text x="76.60" y="206.12" font-size="7.6" font-weight="bold" text-anchor="end" fill="#000">6</text>
<text x="76.60" y="189.64" font-size="7.6" font-weight="bold" text-anchor="end" fill="#000">7</text>
<line x1="77.30" y1="151.80" x2="81.00" y2="151.80" stroke="#111" stroke-width="1.1"/>
<text x="76.60" y="154.40" font-size="7.6" font-weight="bold" text-anchor="end" fill="#000">50</text>
<line x1="77.30" y1="165.10" x2="81.00" y2="165.10" stroke="#111" stroke-width="1.1"/>
<text x="76.60" y="167.70" font-size="7.6" font-weight="bold" text-anchor="end" fill="#000">30</text>
<line x1="77.30" y1="178.30" x2="81.00" y2="178.30" stroke="#111" stroke-width="1.1"/>
<text x="76.60" y="180.90" font-size="7.6" font-weight="bold" text-anchor="end" fill="#000">10</text>
<line x1="89.60" y1="306.00" x2="89.60" y2="310.20" stroke="#111" stroke-width="1.1"/>
<text x="92.00" y="318.60" font-size="9.4" font-weight="bold" text-anchor="end" fill="#000" transform="rotate(-45 92.00 318.60)">ADGRA2</text>
<line x1="105.50" y1="306.00" x2="105.50" y2="310.20" stroke="#111" stroke-width="1.1"/>
<text x="107.90" y="318.60" font-size="9.4" font-weight="bold" text-anchor="end" fill="#000" transform="rotate(-45 107.90 318.60)">ADGRA3</text>
<line x1="121.40" y1="306.00" x2="121.40" y2="310.20" stroke="#111" stroke-width="1.1"/>
<text x="123.80" y="318.60" font-size="9.4" font-weight="bold" text-anchor="end" fill="#000" transform="rotate(-45 123.80 318.60)">ADGRB1</text>
<line x1="137.30" y1="306.00" x2="137.30" y2="310.20" stroke="#111" stroke-width="1.1"/>
<text x="139.70" y="318.60" font-size="9.4" font-weight="bold" text-anchor="end" fill="#000" transform="rotate(-45 139.70 318.60)">ADGRB2</text>
<line x1="153.20" y1="306.00" x2="153.20" y2="310.20" stroke="#111" stroke-width="1.1"/>
<text x="155.60" y="318.60" font-size="9.4" font-weight="bold" text-anchor="end" fill="#000" transform="rotate(-45 155.60 318.60)">ADGRB3</text>
<line x1="169.10" y1="306.00" x2="169.10" y2="310.20" stroke="#111" stroke-width="1.1"/>
<text x="171.50" y="318.60" font-size="9.4" font-weight="bold" text-anchor="end" fill="#000" transform="rotate(-45 171.50 318.60)">ADGRC1</text>
<line x1="185.00" y1="306.00" x2="185.00" y2="310.20" stroke="#111" stroke-width="1.1"/>
<text x="187.40" y="318.60" font-size="9.4" font-weight="bold" text-anchor="end" fill="#000" transform="rotate(-45 187.40 318.60)">ADGRC2</text>
<line x1="200.90" y1="306.00" x2="200.90" y2="310.20" stroke="#111" stroke-width="1.1"/>
<text x="203.30" y="318.60" font-size="9.4" font-weight="bold" text-anchor="end" fill="#000" transform="rotate(-45 203.30 318.60)">ADGRC3</text>
<line x1="216.80" y1="306.00" x2="216.80" y2="310.20" stroke="#111" stroke-width="1.1"/>
<text x="219.20" y="318.60" font-size="9.4" font-weight="bold" text-anchor="end" fill="#000" transform="rotate(-45 219.20 318.60)">ADGRD1</text>
<line x1="232.70" y1="306.00" x2="232.70" y2="310.20" stroke="#111" stroke-width="1.1"/>
<text x="235.10" y="318.60" font-size="9.4" font-weight="bold" text-anchor="end" fill="#000" transform="rotate(-45 235.10 318.60)">ADGRE2</text>
<line x1="248.60" y1="306.00" x2="248.60" y2="310.20" stroke="#111" stroke-width="1.1"/>
<text x="251.00" y="318.60" font-size="9.4" font-weight="bold" text-anchor="end" fill="#000" transform="rotate(-45 251.00 318.60)">ADGRE5</text>
<line x1="264.50" y1="306.00" x2="264.50" y2="310.20" stroke="#111" stroke-width="1.1"/>
<text x="266.90" y="318.60" font-size="9.4" font-weight="bold" text-anchor="end" fill="#000" transform="rotate(-45 266.90 318.60)">ADGRF1</text>
<line x1="280.40" y1="306.00" x2="280.40" y2="310.20" stroke="#111" stroke-width="1.1"/>
<text x="282.80" y="318.60" font-size="9.4" font-weight="bold" text-anchor="end" fill="#000" transform="rotate(-45 282.80 318.60)">ADGRF2</text>
<line x1="296.30" y1="306.00" x2="296.30" y2="310.20" stroke="#111" stroke-width="1.1"/>
<text x="298.70" y="318.60" font-size="9.4" font-weight="bold" text-anchor="end" fill="#000" transform="rotate(-45 298.70 318.60)">ADGRF3</text>
<line x1="312.20" y1="306.00" x2="312.20" y2="310.20" stroke="#111" stroke-width="1.1"/>
<text x="314.60" y="318.60" font-size="9.4" font-weight="bold" text-anchor="end" fill="#000" transform="rotate(-45 314.60 318.60)">ADGRF4</text>
<line x1="328.10" y1="306.00" x2="328.10" y2="310.20" stroke="#111" stroke-width="1.1"/>
<text x="330.50" y="318.60" font-size="9.4" font-weight="bold" text-anchor="end" fill="#000" transform="rotate(-45 330.50 318.60)">ADGRF5</text>
<line x1="344.00" y1="306.00" x2="344.00" y2="310.20" stroke="#111" stroke-width="1.1"/>
<text x="346.40" y="318.60" font-size="9.4" font-weight="bold" text-anchor="end" fill="#000" transform="rotate(-45 346.40 318.60)">ADGRG1</text>
<line x1="359.90" y1="306.00" x2="359.90" y2="310.20" stroke="#111" stroke-width="1.1"/>
<text x="362.30" y="318.60" font-size="9.4" font-weight="bold" text-anchor="end" fill="#000" transform="rotate(-45 362.30 318.60)">ADGRG2</text>
<line x1="375.80" y1="306.00" x2="375.80" y2="310.20" stroke="#111" stroke-width="1.1"/>
<text x="378.20" y="318.60" font-size="9.4" font-weight="bold" text-anchor="end" fill="#000" transform="rotate(-45 378.20 318.60)">ADGRG3</text>
<line x1="391.70" y1="306.00" x2="391.70" y2="310.20" stroke="#111" stroke-width="1.1"/>
<text x="394.10" y="318.60" font-size="9.4" font-weight="bold" text-anchor="end" fill="#000" transform="rotate(-45 394.10 318.60)">ADGRG6</text>
<line x1="407.60" y1="306.00" x2="407.60" y2="310.20" stroke="#111" stroke-width="1.1"/>
<text x="410.00" y="318.60" font-size="9.4" font-weight="bold" text-anchor="end" fill="#000" transform="rotate(-45 410.00 318.60)">ADGRG7</text>
<line x1="423.50" y1="306.00" x2="423.50" y2="310.20" stroke="#111" stroke-width="1.1"/>
<text x="425.90" y="318.60" font-size="9.4" font-weight="bold" text-anchor="end" fill="#000" transform="rotate(-45 425.90 318.60)">ADGRL1</text>
<line x1="439.40" y1="306.00" x2="439.40" y2="310.20" stroke="#111" stroke-width="1.1"/>
<text x="441.80" y="318.60" font-size="9.4" font-weight="bold" text-anchor="end" fill="#000" transform="rotate(-45 441.80 318.60)">ADGRL2</text>
<line x1="455.30" y1="306.00" x2="455.30" y2="310.20" stroke="#111" stroke-width="1.1"/>
<text x="457.70" y="318.60" font-size="9.4" font-weight="bold" text-anchor="end" fill="#000" transform="rotate(-45 457.70 318.60)">ADGRL3</text>
<line x1="471.20" y1="306.00" x2="471.20" y2="310.20" stroke="#111" stroke-width="1.1"/>
<text x="473.60" y="318.60" font-size="9.4" font-weight="bold" text-anchor="end" fill="#000" transform="rotate(-45 473.60 318.60)">ADGRL4</text>
<line x1="487.10" y1="306.00" x2="487.10" y2="310.20" stroke="#111" stroke-width="1.1"/>
<text x="489.50" y="318.60" font-size="9.4" font-weight="bold" text-anchor="end" fill="#000" transform="rotate(-45 489.50 318.60)">ADGRV1</text>
<text transform="translate(62.20 288.90) rotate(-90)" font-size="10.15" font-weight="bold" fill="#000">Relative expression (2<tspan font-size="8.0" dy="-5.6">-ΔΔCt</tspan><tspan dy="5.6">)</tspan></text>
<text x="288.30" y="126.70" font-size="11.6" font-weight="bold" text-anchor="middle" fill="#000">Calu-3</text>
<rect x="466.70" y="144.80" width="9.10" height="5.10" fill="#828282"/>
<rect x="466.70" y="157.30" width="9.10" height="5.10" fill="#dadada"/>
<text x="481.00" y="149.90" font-size="8.2" text-anchor="start" fill="#000">6 hrs</text>
<text x="481.00" y="162.60" font-size="8.2" text-anchor="start" fill="#000">12 hrs</text>
<line x1="84.90" y1="485.42" x2="84.90" y2="505.32" stroke="#7c7c7c" stroke-width="0.9"/>
<line x1="83.80" y1="485.42" x2="86.00" y2="485.42" stroke="#7c7c7c" stroke-width="0.9"/>
<rect x="81.95" y="505.32" width="5.90" height="48.08" fill="#828282"/>
<line x1="92.10" y1="503.66" x2="92.10" y2="520.65" stroke="#8e8e8e" stroke-width="0.9"/>
<line x1="91.00" y1="503.66" x2="93.20" y2="503.66" stroke="#8e8e8e" stroke-width="0.9"/>
<rect x="89.15" y="520.65" width="5.90" height="32.75" fill="#dadada"/>
<line x1="102.85" y1="491.22" x2="102.85" y2="510.29" stroke="#7c7c7c" stroke-width="0.9"/>
<line x1="101.75" y1="491.22" x2="103.95" y2="491.22" stroke="#7c7c7c" stroke-width="0.9"/>
<rect x="99.90" y="510.29" width="5.90" height="43.11" fill="#828282"/>
<line x1="110.05" y1="486.67" x2="110.05" y2="510.29" stroke="#8e8e8e" stroke-width="0.9"/>
<line x1="108.95" y1="486.67" x2="111.15" y2="486.67" stroke="#8e8e8e" stroke-width="0.9"/>
<rect x="107.10" y="510.29" width="5.90" height="43.11" fill="#dadada"/>
<line x1="120.80" y1="499.93" x2="120.80" y2="510.71" stroke="#7c7c7c" stroke-width="0.9"/>
<line x1="119.70" y1="499.93" x2="121.90" y2="499.93" stroke="#7c7c7c" stroke-width="0.9"/>
<rect x="117.85" y="510.71" width="5.90" height="42.69" fill="#828282"/>
<line x1="128.00" y1="490.81" x2="128.00" y2="509.46" stroke="#8e8e8e" stroke-width="0.9"/>
<line x1="126.90" y1="490.81" x2="129.10" y2="490.81" stroke="#8e8e8e" stroke-width="0.9"/>
<rect x="125.05" y="509.46" width="5.90" height="43.94" fill="#dadada"/>
<line x1="138.75" y1="448.53" x2="138.75" y2="485.42" stroke="#7c7c7c" stroke-width="0.9"/>
<line x1="137.65" y1="448.53" x2="139.85" y2="448.53" stroke="#7c7c7c" stroke-width="0.9"/>
<rect x="135.80" y="485.42" width="5.90" height="67.98" fill="#828282"/>
<line x1="145.95" y1="423.25" x2="145.95" y2="470.91" stroke="#8e8e8e" stroke-width="0.9"/>
<line x1="144.85" y1="423.25" x2="147.05" y2="423.25" stroke="#8e8e8e" stroke-width="0.9"/>
<rect x="143.00" y="470.91" width="5.90" height="82.49" fill="#dadada"/>
<line x1="156.70" y1="504.49" x2="156.70" y2="513.61" stroke="#7c7c7c" stroke-width="0.9"/>
<line x1="155.60" y1="504.49" x2="157.80" y2="504.49" stroke="#7c7c7c" stroke-width="0.9"/>
<rect x="153.75" y="513.61" width="5.90" height="39.79" fill="#828282"/>
<line x1="163.90" y1="478.79" x2="163.90" y2="500.34" stroke="#8e8e8e" stroke-width="0.9"/>
<line x1="162.80" y1="478.79" x2="165.00" y2="478.79" stroke="#8e8e8e" stroke-width="0.9"/>
<rect x="160.95" y="500.34" width="5.90" height="53.06" fill="#dadada"/>
<line x1="174.65" y1="454.75" x2="174.65" y2="493.71" stroke="#7c7c7c" stroke-width="0.9"/>
<line x1="173.55" y1="454.75" x2="175.75" y2="454.75" stroke="#7c7c7c" stroke-width="0.9"/>
<rect x="171.70" y="493.71" width="5.90" height="59.69" fill="#828282"/>
<line x1="181.85" y1="450.60" x2="181.85" y2="495.78" stroke="#8e8e8e" stroke-width="0.9"/>
<line x1="180.75" y1="450.60" x2="182.95" y2="450.60" stroke="#8e8e8e" stroke-width="0.9"/>
<rect x="178.90" y="495.78" width="5.90" height="57.62" fill="#dadada"/>
<line x1="192.60" y1="502.83" x2="192.60" y2="514.85" stroke="#7c7c7c" stroke-width="0.9"/>
<line x1="191.50" y1="502.83" x2="193.70" y2="502.83" stroke="#7c7c7c" stroke-width="0.9"/>
<rect x="189.65" y="514.85" width="5.90" height="38.55" fill="#828282"/>
<line x1="199.80" y1="426.15" x2="199.80" y2="469.67" stroke="#8e8e8e" stroke-width="0.9"/>
<line x1="198.70" y1="426.15" x2="200.90" y2="426.15" stroke="#8e8e8e" stroke-width="0.9"/>
<rect x="196.85" y="469.67" width="5.90" height="83.73" fill="#dadada"/>
<line x1="210.55" y1="509.88" x2="210.55" y2="523.56" stroke="#7c7c7c" stroke-width="0.9"/>
<line x1="209.45" y1="509.88" x2="211.65" y2="509.88" stroke="#7c7c7c" stroke-width="0.9"/>
<rect x="207.60" y="523.56" width="5.90" height="29.84" fill="#828282"/>
<line x1="217.75" y1="476.30" x2="217.75" y2="501.17" stroke="#8e8e8e" stroke-width="0.9"/>
<line x1="216.65" y1="476.30" x2="218.85" y2="476.30" stroke="#8e8e8e" stroke-width="0.9"/>
<rect x="214.80" y="501.17" width="5.90" height="52.23" fill="#dadada"/>
<line x1="228.50" y1="508.63" x2="228.50" y2="516.92" stroke="#7c7c7c" stroke-width="0.9"/>
<line x1="227.40" y1="508.63" x2="229.60" y2="508.63" stroke="#7c7c7c" stroke-width="0.9"/>
<rect x="225.55" y="516.92" width="5.90" height="36.48" fill="#828282"/>
<line x1="235.70" y1="486.67" x2="235.70" y2="505.32" stroke="#8e8e8e" stroke-width="0.9"/>
<line x1="234.60" y1="486.67" x2="236.80" y2="486.67" stroke="#8e8e8e" stroke-width="0.9"/>
<rect x="232.75" y="505.32" width="5.90" height="48.08" fill="#dadada"/>
<line x1="246.45" y1="506.56" x2="246.45" y2="515.68" stroke="#7c7c7c" stroke-width="0.9"/>
<line x1="245.35" y1="506.56" x2="247.55" y2="506.56" stroke="#7c7c7c" stroke-width="0.9"/>
<rect x="243.50" y="515.68" width="5.90" height="37.72" fill="#828282"/>
<line x1="253.65" y1="426.56" x2="253.65" y2="464.70" stroke="#8e8e8e" stroke-width="0.9"/>
<line x1="252.55" y1="426.56" x2="254.75" y2="426.56" stroke="#8e8e8e" stroke-width="0.9"/>
<rect x="250.70" y="464.70" width="5.90" height="88.70" fill="#dadada"/>
<line x1="264.40" y1="502.42" x2="264.40" y2="514.85" stroke="#7c7c7c" stroke-width="0.9"/>
<line x1="263.30" y1="502.42" x2="265.50" y2="502.42" stroke="#7c7c7c" stroke-width="0.9"/>
<rect x="261.45" y="514.85" width="5.90" height="38.55" fill="#828282"/>
<line x1="271.60" y1="484.59" x2="271.60" y2="501.17" stroke="#8e8e8e" stroke-width="0.9"/>
<line x1="270.50" y1="484.59" x2="272.70" y2="484.59" stroke="#8e8e8e" stroke-width="0.9"/>
<rect x="268.65" y="501.17" width="5.90" height="52.23" fill="#dadada"/>
<line x1="282.35" y1="496.61" x2="282.35" y2="509.05" stroke="#7c7c7c" stroke-width="0.9"/>
<line x1="281.25" y1="496.61" x2="283.45" y2="496.61" stroke="#7c7c7c" stroke-width="0.9"/>
<rect x="279.40" y="509.05" width="5.90" height="44.35" fill="#828282"/>
<line x1="289.55" y1="462.21" x2="289.55" y2="489.57" stroke="#8e8e8e" stroke-width="0.9"/>
<line x1="288.45" y1="462.21" x2="290.65" y2="462.21" stroke="#8e8e8e" stroke-width="0.9"/>
<rect x="286.60" y="489.57" width="5.90" height="63.83" fill="#dadada"/>
<line x1="300.30" y1="507.80" x2="300.30" y2="517.34" stroke="#7c7c7c" stroke-width="0.9"/>
<line x1="299.20" y1="507.80" x2="301.40" y2="507.80" stroke="#7c7c7c" stroke-width="0.9"/>
<rect x="297.35" y="517.34" width="5.90" height="36.06" fill="#828282"/>
<line x1="307.50" y1="466.77" x2="307.50" y2="495.37" stroke="#8e8e8e" stroke-width="0.9"/>
<line x1="306.40" y1="466.77" x2="308.60" y2="466.77" stroke="#8e8e8e" stroke-width="0.9"/>
<rect x="304.55" y="495.37" width="5.90" height="58.03" fill="#dadada"/>
<line x1="318.25" y1="502.83" x2="318.25" y2="517.34" stroke="#7c7c7c" stroke-width="0.9"/>
<line x1="317.15" y1="502.83" x2="319.35" y2="502.83" stroke="#7c7c7c" stroke-width="0.9"/>
<rect x="315.30" y="517.34" width="5.90" height="36.06" fill="#828282"/>
<line x1="325.45" y1="501.59" x2="325.45" y2="517.34" stroke="#8e8e8e" stroke-width="0.9"/>
<line x1="324.35" y1="501.59" x2="326.55" y2="501.59" stroke="#8e8e8e" stroke-width="0.9"/>
<rect x="322.50" y="517.34" width="5.90" height="36.06" fill="#dadada"/>
<line x1="336.20" y1="499.93" x2="336.20" y2="512.36" stroke="#7c7c7c" stroke-width="0.9"/>
<line x1="335.10" y1="499.93" x2="337.30" y2="499.93" stroke="#7c7c7c" stroke-width="0.9"/>
<rect x="333.25" y="512.36" width="5.90" height="41.04" fill="#828282"/>
<line x1="343.40" y1="484.59" x2="343.40" y2="507.80" stroke="#8e8e8e" stroke-width="0.9"/>
<line x1="342.30" y1="484.59" x2="344.50" y2="484.59" stroke="#8e8e8e" stroke-width="0.9"/>
<rect x="340.45" y="507.80" width="5.90" height="45.60" fill="#dadada"/>
<line x1="354.15" y1="506.56" x2="354.15" y2="514.02" stroke="#7c7c7c" stroke-width="0.9"/>
<line x1="353.05" y1="506.56" x2="355.25" y2="506.56" stroke="#7c7c7c" stroke-width="0.9"/>
<rect x="351.20" y="514.02" width="5.90" height="39.38" fill="#828282"/>
<line x1="361.35" y1="448.95" x2="361.35" y2="482.11" stroke="#8e8e8e" stroke-width="0.9"/>
<line x1="360.25" y1="448.95" x2="362.45" y2="448.95" stroke="#8e8e8e" stroke-width="0.9"/>
<rect x="358.40" y="482.11" width="5.90" height="71.29" fill="#dadada"/>
<line x1="372.10" y1="502.83" x2="372.10" y2="512.78" stroke="#7c7c7c" stroke-width="0.9"/>
<line x1="371.00" y1="502.83" x2="373.20" y2="502.83" stroke="#7c7c7c" stroke-width="0.9"/>
<rect x="369.15" y="512.78" width="5.90" height="40.62" fill="#828282"/>
<line x1="379.30" y1="476.72" x2="379.30" y2="506.56" stroke="#8e8e8e" stroke-width="0.9"/>
<line x1="378.20" y1="476.72" x2="380.40" y2="476.72" stroke="#8e8e8e" stroke-width="0.9"/>
<rect x="376.35" y="506.56" width="5.90" height="46.84" fill="#dadada"/>
<line x1="390.05" y1="500.76" x2="390.05" y2="512.36" stroke="#7c7c7c" stroke-width="0.9"/>
<line x1="388.95" y1="500.76" x2="391.15" y2="500.76" stroke="#7c7c7c" stroke-width="0.9"/>
<rect x="387.10" y="512.36" width="5.90" height="41.04" fill="#828282"/>
<line x1="397.25" y1="484.59" x2="397.25" y2="507.39" stroke="#8e8e8e" stroke-width="0.9"/>
<line x1="396.15" y1="484.59" x2="398.35" y2="484.59" stroke="#8e8e8e" stroke-width="0.9"/>
<rect x="394.30" y="507.39" width="5.90" height="46.01" fill="#dadada"/>
<line x1="408.00" y1="501.59" x2="408.00" y2="511.54" stroke="#7c7c7c" stroke-width="0.9"/>
<line x1="406.90" y1="501.59" x2="409.10" y2="501.59" stroke="#7c7c7c" stroke-width="0.9"/>
<rect x="405.05" y="511.54" width="5.90" height="41.86" fill="#828282"/>
<line x1="415.20" y1="441.90" x2="415.20" y2="481.28" stroke="#8e8e8e" stroke-width="0.9"/>
<line x1="414.10" y1="441.90" x2="416.30" y2="441.90" stroke="#8e8e8e" stroke-width="0.9"/>
<rect x="412.25" y="481.28" width="5.90" height="72.12" fill="#dadada"/>
<line x1="425.95" y1="501.59" x2="425.95" y2="518.17" stroke="#7c7c7c" stroke-width="0.9"/>
<line x1="424.85" y1="501.59" x2="427.05" y2="501.59" stroke="#7c7c7c" stroke-width="0.9"/>
<rect x="423.00" y="518.17" width="5.90" height="35.23" fill="#828282"/>
<line x1="433.15" y1="474.64" x2="433.15" y2="503.25" stroke="#8e8e8e" stroke-width="0.9"/>
<line x1="432.05" y1="474.64" x2="434.25" y2="474.64" stroke="#8e8e8e" stroke-width="0.9"/>
<rect x="430.20" y="503.25" width="5.90" height="50.15" fill="#dadada"/>
<line x1="443.90" y1="497.86" x2="443.90" y2="514.85" stroke="#7c7c7c" stroke-width="0.9"/>
<line x1="442.80" y1="497.86" x2="445.00" y2="497.86" stroke="#7c7c7c" stroke-width="0.9"/>
<rect x="440.95" y="514.85" width="5.90" height="38.55" fill="#828282"/>
<line x1="451.10" y1="456.82" x2="451.10" y2="487.08" stroke="#8e8e8e" stroke-width="0.9"/>
<line x1="450.00" y1="456.82" x2="452.20" y2="456.82" stroke="#8e8e8e" stroke-width="0.9"/>
<rect x="448.15" y="487.08" width="5.90" height="66.32" fill="#dadada"/>
<line x1="461.85" y1="509.05" x2="461.85" y2="523.14" stroke="#7c7c7c" stroke-width="0.9"/>
<line x1="460.75" y1="509.05" x2="462.95" y2="509.05" stroke="#7c7c7c" stroke-width="0.9"/>
<rect x="458.90" y="523.14" width="5.90" height="30.26" fill="#828282"/>
<line x1="469.05" y1="463.04" x2="469.05" y2="489.98" stroke="#8e8e8e" stroke-width="0.9"/>
<line x1="467.95" y1="463.04" x2="470.15" y2="463.04" stroke="#8e8e8e" stroke-width="0.9"/>
<rect x="466.10" y="489.98" width="5.90" height="63.42" fill="#dadada"/>
<line x1="479.80" y1="507.80" x2="479.80" y2="516.10" stroke="#7c7c7c" stroke-width="0.9"/>
<line x1="478.70" y1="507.80" x2="480.90" y2="507.80" stroke="#7c7c7c" stroke-width="0.9"/>
<rect x="476.85" y="516.10" width="5.90" height="37.30" fill="#828282"/>
<line x1="487.00" y1="491.22" x2="487.00" y2="509.46" stroke="#8e8e8e" stroke-width="0.9"/>
<line x1="485.90" y1="491.22" x2="488.10" y2="491.22" stroke="#8e8e8e" stroke-width="0.9"/>
<rect x="484.05" y="509.46" width="5.90" height="43.94" fill="#dadada"/>
<line x1="80.10" y1="470.50" x2="491.80" y2="470.50" stroke="#444" stroke-width="0.8" stroke-dasharray="1 1.5"/>
<line x1="80.10" y1="532.67" x2="491.80" y2="532.67" stroke="#444" stroke-width="0.8" stroke-dasharray="1 1.5"/>
<line x1="79.10" y1="387.00" x2="79.10" y2="554.10" stroke="#111" stroke-width="1.5"/>
<line x1="78.40" y1="553.40" x2="494.80" y2="553.40" stroke="#111" stroke-width="1.6"/>
<line x1="75.40" y1="553.40" x2="79.10" y2="553.40" stroke="#111" stroke-width="1.1"/>
<text x="74.60" y="556.00" font-size="7.6" font-weight="bold" text-anchor="end" fill="#000">0</text>
<line x1="75.40" y1="511.95" x2="79.10" y2="511.95" stroke="#111" stroke-width="1.1"/>
<text x="74.60" y="514.55" font-size="7.6" font-weight="bold" text-anchor="end" fill="#000">1</text>
<line x1="75.40" y1="470.50" x2="79.10" y2="470.50" stroke="#111" stroke-width="1.1"/>
<text x="74.60" y="473.10" font-size="7.6" font-weight="bold" text-anchor="end" fill="#000">2</text>
<line x1="75.40" y1="429.05" x2="79.10" y2="429.05" stroke="#111" stroke-width="1.1"/>
<text x="74.60" y="431.65" font-size="7.6" font-weight="bold" text-anchor="end" fill="#000">3</text>
<line x1="75.40" y1="387.60" x2="79.10" y2="387.60" stroke="#111" stroke-width="1.1"/>
<text x="74.60" y="390.20" font-size="7.6" font-weight="bold" text-anchor="end" fill="#000">4</text>
<line x1="88.50" y1="553.40" x2="88.50" y2="557.40" stroke="#111" stroke-width="1.1"/>
<text x="90.90" y="566.20" font-size="9.4" font-weight="bold" text-anchor="end" fill="#000" transform="rotate(-45 90.90 566.20)">ADGRA1</text>
<line x1="106.45" y1="553.40" x2="106.45" y2="557.40" stroke="#111" stroke-width="1.1"/>
<text x="108.85" y="566.20" font-size="9.4" font-weight="bold" text-anchor="end" fill="#000" transform="rotate(-45 108.85 566.20)">ADGRA2</text>
<line x1="124.40" y1="553.40" x2="124.40" y2="557.40" stroke="#111" stroke-width="1.1"/>
<text x="126.80" y="566.20" font-size="9.4" font-weight="bold" text-anchor="end" fill="#000" transform="rotate(-45 126.80 566.20)">ADGRA3</text>
<line x1="142.35" y1="553.40" x2="142.35" y2="557.40" stroke="#111" stroke-width="1.1"/>
<text x="144.75" y="566.20" font-size="9.4" font-weight="bold" text-anchor="end" fill="#000" transform="rotate(-45 144.75 566.20)">ADGRB1</text>
<line x1="160.30" y1="553.40" x2="160.30" y2="557.40" stroke="#111" stroke-width="1.1"/>
<text x="162.70" y="566.20" font-size="9.4" font-weight="bold" text-anchor="end" fill="#000" transform="rotate(-45 162.70 566.20)">ADGRB2</text>
<line x1="178.25" y1="553.40" x2="178.25" y2="557.40" stroke="#111" stroke-width="1.1"/>
<text x="180.65" y="566.20" font-size="9.4" font-weight="bold" text-anchor="end" fill="#000" transform="rotate(-45 180.65 566.20)">ADGRB3</text>
<line x1="196.20" y1="553.40" x2="196.20" y2="557.40" stroke="#111" stroke-width="1.1"/>
<text x="198.60" y="566.20" font-size="9.4" font-weight="bold" text-anchor="end" fill="#000" transform="rotate(-45 198.60 566.20)">ADGRC1</text>
<line x1="214.15" y1="553.40" x2="214.15" y2="557.40" stroke="#111" stroke-width="1.1"/>
<text x="216.55" y="566.20" font-size="9.4" font-weight="bold" text-anchor="end" fill="#000" transform="rotate(-45 216.55 566.20)">ADGRC2</text>
<line x1="232.10" y1="553.40" x2="232.10" y2="557.40" stroke="#111" stroke-width="1.1"/>
<text x="234.50" y="566.20" font-size="9.4" font-weight="bold" text-anchor="end" fill="#000" transform="rotate(-45 234.50 566.20)">ADGRC3</text>
<line x1="250.05" y1="553.40" x2="250.05" y2="557.40" stroke="#111" stroke-width="1.1"/>
<text x="252.45" y="566.20" font-size="9.4" font-weight="bold" text-anchor="end" fill="#000" transform="rotate(-45 252.45 566.20)">ADGRD1</text>
<line x1="268.00" y1="553.40" x2="268.00" y2="557.40" stroke="#111" stroke-width="1.1"/>
<text x="270.40" y="566.20" font-size="9.4" font-weight="bold" text-anchor="end" fill="#000" transform="rotate(-45 270.40 566.20)">ADGRE2</text>
<line x1="285.95" y1="553.40" x2="285.95" y2="557.40" stroke="#111" stroke-width="1.1"/>
<text x="288.35" y="566.20" font-size="9.4" font-weight="bold" text-anchor="end" fill="#000" transform="rotate(-45 288.35 566.20)">ADGRF1</text>
<line x1="303.90" y1="553.40" x2="303.90" y2="557.40" stroke="#111" stroke-width="1.1"/>
<text x="306.30" y="566.20" font-size="9.4" font-weight="bold" text-anchor="end" fill="#000" transform="rotate(-45 306.30 566.20)">ADGRF2</text>
<line x1="321.85" y1="553.40" x2="321.85" y2="557.40" stroke="#111" stroke-width="1.1"/>
<text x="324.25" y="566.20" font-size="9.4" font-weight="bold" text-anchor="end" fill="#000" transform="rotate(-45 324.25 566.20)">ADGRF4</text>
<line x1="339.80" y1="553.40" x2="339.80" y2="557.40" stroke="#111" stroke-width="1.1"/>
<text x="342.20" y="566.20" font-size="9.4" font-weight="bold" text-anchor="end" fill="#000" transform="rotate(-45 342.20 566.20)">ADGRG1</text>
<line x1="357.75" y1="553.40" x2="357.75" y2="557.40" stroke="#111" stroke-width="1.1"/>
<text x="360.15" y="566.20" font-size="9.4" font-weight="bold" text-anchor="end" fill="#000" transform="rotate(-45 360.15 566.20)">ADGRG2</text>
<line x1="375.70" y1="553.40" x2="375.70" y2="557.40" stroke="#111" stroke-width="1.1"/>
<text x="378.10" y="566.20" font-size="9.4" font-weight="bold" text-anchor="end" fill="#000" transform="rotate(-45 378.10 566.20)">ADGRG3</text>
<line x1="393.65" y1="553.40" x2="393.65" y2="557.40" stroke="#111" stroke-width="1.1"/>
<text x="396.05" y="566.20" font-size="9.4" font-weight="bold" text-anchor="end" fill="#000" transform="rotate(-45 396.05 566.20)">ADGRG6</text>
<line x1="411.60" y1="553.40" x2="411.60" y2="557.40" stroke="#111" stroke-width="1.1"/>
<text x="414.00" y="566.20" font-size="9.4" font-weight="bold" text-anchor="end" fill="#000" transform="rotate(-45 414.00 566.20)">ADGRG7</text>
<line x1="429.55" y1="553.40" x2="429.55" y2="557.40" stroke="#111" stroke-width="1.1"/>
<text x="431.95" y="566.20" font-size="9.4" font-weight="bold" text-anchor="end" fill="#000" transform="rotate(-45 431.95 566.20)">ADGRL1</text>
<line x1="447.50" y1="553.40" x2="447.50" y2="557.40" stroke="#111" stroke-width="1.1"/>
<text x="449.90" y="566.20" font-size="9.4" font-weight="bold" text-anchor="end" fill="#000" transform="rotate(-45 449.90 566.20)">ADGRL2</text>
<line x1="465.45" y1="553.40" x2="465.45" y2="557.40" stroke="#111" stroke-width="1.1"/>
<text x="467.85" y="566.20" font-size="9.4" font-weight="bold" text-anchor="end" fill="#000" transform="rotate(-45 467.85 566.20)">ADGRL3</text>
<line x1="483.40" y1="553.40" x2="483.40" y2="557.40" stroke="#111" stroke-width="1.1"/>
<text x="485.80" y="566.20" font-size="9.4" font-weight="bold" text-anchor="end" fill="#000" transform="rotate(-45 485.80 566.20)">ADGRV1</text>
<text transform="translate(65.20 535.20) rotate(-90)" font-size="10.15" font-weight="bold" fill="#000">Relative expression (2<tspan font-size="8.0" dy="-5.6">-ΔΔCt</tspan><tspan dy="5.6">)</tspan></text>
<text x="286.70" y="373.90" font-size="11.7" font-weight="bold" text-anchor="middle" fill="#000">Caco-2</text>
<rect x="466.70" y="391.60" width="9.10" height="5.10" fill="#828282"/>
<rect x="466.70" y="404.50" width="9.10" height="5.10" fill="#dadada"/>
<text x="481.00" y="396.80" font-size="8.2" text-anchor="start" fill="#000">6hrs</text>
<text x="481.00" y="409.80" font-size="8.2" text-anchor="start" fill="#000">12hrs</text>
<text x="90.60" y="632.90" font-size="10.2" font-weight="bold" text-anchor="middle" fill="#000">ADGRB3/BAI3</text>
<text x="90.60" y="643.60" font-size="9.0" font-weight="bold" text-anchor="middle" fill="#000">Calu-3</text>
<rect x="63.95" y="749.78" width="11.90" height="15.12" fill="#555555" stroke="#1c1c1c" stroke-width="1.5"/>
<line x1="89.90" y1="736.32" x2="89.90" y2="745.46" stroke="#b8b8b8" stroke-width="1.0"/>
<line x1="86.60" y1="736.32" x2="93.20" y2="736.32" stroke="#b8b8b8" stroke-width="1.0"/>
<rect x="83.95" y="746.21" width="11.90" height="18.69" fill="#9a9a9a" stroke="#1c1c1c" stroke-width="1.5"/>
<line x1="109.80" y1="680.15" x2="109.80" y2="708.57" stroke="#b8b8b8" stroke-width="1.0"/>
<line x1="106.50" y1="680.15" x2="113.10" y2="680.15" stroke="#b8b8b8" stroke-width="1.0"/>
<rect x="103.85" y="709.32" width="11.90" height="55.58" fill="#d8d8d8" stroke="#1c1c1c" stroke-width="1.5"/>
<line x1="109.80" y1="709.17" x2="109.80" y2="716.71" stroke="#f2f2f2" stroke-width="1.0"/>
<line x1="106.50" y1="716.71" x2="113.10" y2="716.71" stroke="#f2f2f2" stroke-width="1.0"/>
<path d="M66.50 749.73L68.70 749.73L67.60 747.83Z" fill="#fff"/>
<path d="M71.10 749.73L73.30 749.73L72.20 747.83Z" fill="#fff"/>
<path d="M86.50 746.16L88.70 746.16L87.60 744.26Z" fill="#fff"/>
<path d="M91.10 746.16L93.30 746.16L92.20 744.26Z" fill="#fff"/>
<path d="M106.40 709.27L108.60 709.27L107.50 707.37Z" fill="#fff"/>
<path d="M111.00 709.27L113.20 709.27L112.10 707.37Z" fill="#fff"/>
<path d="M106.10 717.51L108.30 717.51L107.20 715.71Z" fill="#fff"/>
<path d="M111.30 717.51L113.50 717.51L112.40 715.71Z" fill="#fff"/>
<line x1="56.90" y1="664.90" x2="56.90" y2="765.60" stroke="#333" stroke-width="1.4"/>
<line x1="56.20" y1="764.90" x2="123.50" y2="764.90" stroke="#333" stroke-width="1.4"/>
<line x1="53.10" y1="764.90" x2="56.90" y2="764.90" stroke="#333" stroke-width="1.1"/>
<text x="52.30" y="767.60" font-size="7.5" font-weight="bold" text-anchor="end" fill="#000">0</text>
<line x1="53.10" y1="731.67" x2="56.90" y2="731.67" stroke="#333" stroke-width="1.1"/>
<text x="52.30" y="734.37" font-size="7.5" font-weight="bold" text-anchor="end" fill="#000">2</text>
<line x1="53.10" y1="698.43" x2="56.90" y2="698.43" stroke="#333" stroke-width="1.1"/>
<text x="52.30" y="701.13" font-size="7.5" font-weight="bold" text-anchor="end" fill="#000">4</text>
<line x1="53.10" y1="665.20" x2="56.90" y2="665.20" stroke="#333" stroke-width="1.1"/>
<text x="52.30" y="667.90" font-size="7.5" font-weight="bold" text-anchor="end" fill="#000">6</text>
<line x1="69.90" y1="764.90" x2="69.90" y2="768.90" stroke="#333" stroke-width="1.1"/>
<text x="72.50" y="776.30" font-size="8.1" font-weight="bold" text-anchor="end" fill="#000" transform="rotate(-45 72.50 776.30)">0 hpi</text>
<line x1="89.90" y1="764.90" x2="89.90" y2="768.90" stroke="#333" stroke-width="1.1"/>
<text x="92.50" y="776.30" font-size="8.1" font-weight="bold" text-anchor="end" fill="#000" transform="rotate(-45 92.50 776.30)">6 hpi</text>
<line x1="109.80" y1="764.90" x2="109.80" y2="768.90" stroke="#333" stroke-width="1.1"/>
<text x="112.40" y="776.30" font-size="8.1" font-weight="bold" text-anchor="end" fill="#000" transform="rotate(-45 112.40 776.30)">12 hpi</text>
<line x1="69.70" y1="662.90" x2="109.80" y2="662.90" stroke="#555" stroke-width="1.4"/>
<text x="89.75" y="663.40" font-size="10.5" font-weight="bold" text-anchor="middle" fill="#000">**</text>
<line x1="90.10" y1="674.90" x2="109.80" y2="674.90" stroke="#555" stroke-width="1.4"/>
<text x="99.95" y="675.40" font-size="10.5" font-weight="bold" text-anchor="middle" fill="#000">*</text>
<text transform="translate(36.00 782.90) rotate(-90)" font-size="10.35" font-weight="bold" fill="#000">Relative expression (2<tspan font-size="8.2" dy="-5.6">-ΔΔCt</tspan><tspan dy="5.6">)</tspan></text>
<text x="219.60" y="632.90" font-size="10.2" font-weight="bold" text-anchor="middle" fill="#000">ADGRG7/GPR128</text>
<text x="219.60" y="643.60" font-size="9.0" font-weight="bold" text-anchor="middle" fill="#000">Calu-3</text>
<rect x="194.05" y="759.00" width="11.90" height="5.90" fill="#555555" stroke="#1c1c1c" stroke-width="1.5"/>
<line x1="220.00" y1="749.28" x2="220.00" y2="757.12" stroke="#8c8c8c" stroke-width="1.0"/>
<line x1="216.70" y1="749.28" x2="223.30" y2="749.28" stroke="#8c8c8c" stroke-width="1.0"/>
<rect x="214.05" y="757.87" width="11.90" height="7.03" fill="#9a9a9a" stroke="#1c1c1c" stroke-width="1.5"/>
<line x1="239.90" y1="676.83" x2="239.90" y2="693.65" stroke="#8c8c8c" stroke-width="1.0"/>
<line x1="236.60" y1="676.83" x2="243.20" y2="676.83" stroke="#8c8c8c" stroke-width="1.0"/>
<rect x="233.95" y="694.40" width="11.90" height="70.50" fill="#d8d8d8" stroke="#1c1c1c" stroke-width="1.5"/>
<line x1="239.90" y1="694.25" x2="239.90" y2="740.77" stroke="#9a9a9a" stroke-width="1.0"/>
<line x1="236.60" y1="740.77" x2="243.20" y2="740.77" stroke="#9a9a9a" stroke-width="1.0"/>
<line x1="187.00" y1="664.90" x2="187.00" y2="765.60" stroke="#333" stroke-width="1.4"/>
<line x1="186.30" y1="764.90" x2="253.40" y2="764.90" stroke="#333" stroke-width="1.4"/>
<line x1="183.20" y1="764.90" x2="187.00" y2="764.90" stroke="#333" stroke-width="1.1"/>
<text x="182.40" y="767.60" font-size="7.5" font-weight="bold" text-anchor="end" fill="#000">0</text>
<line x1="183.20" y1="731.67" x2="187.00" y2="731.67" stroke="#333" stroke-width="1.1"/>
<text x="182.40" y="734.37" font-size="7.5" font-weight="bold" text-anchor="end" fill="#000">5</text>
<line x1="183.20" y1="698.43" x2="187.00" y2="698.43" stroke="#333" stroke-width="1.1"/>
<text x="182.40" y="701.13" font-size="7.5" font-weight="bold" text-anchor="end" fill="#000">10</text>
<line x1="183.20" y1="665.20" x2="187.00" y2="665.20" stroke="#333" stroke-width="1.1"/>
<text x="182.40" y="667.90" font-size="7.5" font-weight="bold" text-anchor="end" fill="#000">15</text>
<line x1="200.00" y1="764.90" x2="200.00" y2="768.90" stroke="#333" stroke-width="1.1"/>
<text x="202.60" y="776.30" font-size="8.1" font-weight="bold" text-anchor="end" fill="#000" transform="rotate(-45 202.60 776.30)">0 hpi</text>
<line x1="220.00" y1="764.90" x2="220.00" y2="768.90" stroke="#333" stroke-width="1.1"/>
<text x="222.60" y="776.30" font-size="8.1" font-weight="bold" text-anchor="end" fill="#000" transform="rotate(-45 222.60 776.30)">6 hpi</text>
<line x1="239.90" y1="764.90" x2="239.90" y2="768.90" stroke="#333" stroke-width="1.1"/>
<text x="242.50" y="776.30" font-size="8.1" font-weight="bold" text-anchor="end" fill="#000" transform="rotate(-45 242.50 776.30)">12 hpi</text>
<line x1="200.20" y1="658.40" x2="239.80" y2="658.40" stroke="#555" stroke-width="1.4"/>
<text x="220.00" y="658.90" font-size="10.5" font-weight="bold" text-anchor="middle" fill="#000">*</text>
<line x1="220.30" y1="670.40" x2="239.80" y2="670.40" stroke="#555" stroke-width="1.4"/>
<text x="230.05" y="670.90" font-size="10.5" font-weight="bold" text-anchor="middle" fill="#000">*</text>
<text transform="translate(161.00 782.90) rotate(-90)" font-size="10.35" font-weight="bold" fill="#000">Relative expression (2<tspan font-size="8.2" dy="-5.6">-ΔΔCt</tspan><tspan dy="5.6">)</tspan></text>
<text x="347.50" y="632.90" font-size="10.5" font-weight="bold" text-anchor="middle" fill="#000">ADGRV1/GPR98</text>
<text x="347.50" y="643.60" font-size="9.0" font-weight="bold" text-anchor="middle" fill="#000">Calu-3</text>
<line x1="327.30" y1="730.67" x2="327.30" y2="732.17" stroke="#c0c0c0" stroke-width="1.0"/>
<line x1="324.00" y1="730.67" x2="330.60" y2="730.67" stroke="#c0c0c0" stroke-width="1.0"/>
<rect x="321.35" y="732.92" width="11.90" height="31.98" fill="#555555" stroke="#1c1c1c" stroke-width="1.5"/>
<line x1="347.30" y1="726.02" x2="347.30" y2="734.66" stroke="#c0c0c0" stroke-width="1.0"/>
<line x1="344.00" y1="726.02" x2="350.60" y2="726.02" stroke="#c0c0c0" stroke-width="1.0"/>
<rect x="341.35" y="735.41" width="11.90" height="29.49" fill="#9a9a9a" stroke="#1c1c1c" stroke-width="1.5"/>
<line x1="367.20" y1="684.14" x2="367.20" y2="690.12" stroke="#c0c0c0" stroke-width="1.0"/>
<line x1="363.90" y1="684.14" x2="370.50" y2="684.14" stroke="#c0c0c0" stroke-width="1.0"/>
<rect x="361.25" y="690.88" width="11.90" height="74.02" fill="#d8d8d8" stroke="#1c1c1c" stroke-width="1.5"/>
<line x1="367.20" y1="690.73" x2="367.20" y2="717.71" stroke="#b4b4b4" stroke-width="1.0"/>
<line x1="363.90" y1="717.71" x2="370.50" y2="717.71" stroke="#b4b4b4" stroke-width="1.0"/>
<path d="M323.90 732.87L326.10 732.87L325.00 730.97Z" fill="#fff"/>
<path d="M328.50 732.87L330.70 732.87L329.60 730.97Z" fill="#fff"/>
<path d="M343.90 735.36L346.10 735.36L345.00 733.46Z" fill="#fff"/>
<path d="M348.50 735.36L350.70 735.36L349.60 733.46Z" fill="#fff"/>
<path d="M363.80 690.83L366.00 690.83L364.90 688.92Z" fill="#fff"/>
<path d="M368.40 690.83L370.60 690.83L369.50 688.92Z" fill="#fff"/>
<path d="M363.50 718.51L365.70 718.51L364.60 716.71Z" fill="#fff"/>
<path d="M368.70 718.51L370.90 718.51L369.80 716.71Z" fill="#fff"/>
<line x1="314.00" y1="664.90" x2="314.00" y2="765.60" stroke="#333" stroke-width="1.4"/>
<line x1="313.30" y1="764.90" x2="380.90" y2="764.90" stroke="#333" stroke-width="1.4"/>
<line x1="310.20" y1="764.90" x2="314.00" y2="764.90" stroke="#333" stroke-width="1.1"/>
<text x="309.40" y="767.60" font-size="7.5" font-weight="bold" text-anchor="end" fill="#000">0</text>
<line x1="310.20" y1="731.67" x2="314.00" y2="731.67" stroke="#333" stroke-width="1.1"/>
<text x="309.40" y="734.37" font-size="7.5" font-weight="bold" text-anchor="end" fill="#000">1</text>
<line x1="310.20" y1="698.43" x2="314.00" y2="698.43" stroke="#333" stroke-width="1.1"/>
<text x="309.40" y="701.13" font-size="7.5" font-weight="bold" text-anchor="end" fill="#000">2</text>
<line x1="310.20" y1="665.20" x2="314.00" y2="665.20" stroke="#333" stroke-width="1.1"/>
<text x="309.40" y="667.90" font-size="7.5" font-weight="bold" text-anchor="end" fill="#000">3</text>
<line x1="327.30" y1="764.90" x2="327.30" y2="768.90" stroke="#333" stroke-width="1.1"/>
<text x="329.90" y="776.30" font-size="8.1" font-weight="bold" text-anchor="end" fill="#000" transform="rotate(-45 329.90 776.30)">0 hpi</text>
<line x1="347.30" y1="764.90" x2="347.30" y2="768.90" stroke="#333" stroke-width="1.1"/>
<text x="349.90" y="776.30" font-size="8.1" font-weight="bold" text-anchor="end" fill="#000" transform="rotate(-45 349.90 776.30)">6 hpi</text>
<line x1="367.20" y1="764.90" x2="367.20" y2="768.90" stroke="#333" stroke-width="1.1"/>
<text x="369.80" y="776.30" font-size="8.1" font-weight="bold" text-anchor="end" fill="#000" transform="rotate(-45 369.80 776.30)">12 hpi</text>
<line x1="327.40" y1="665.80" x2="367.00" y2="665.80" stroke="#555" stroke-width="1.4"/>
<text x="347.20" y="666.30" font-size="10.5" font-weight="bold" text-anchor="middle" fill="#000">*</text>
<line x1="346.90" y1="679.00" x2="367.00" y2="679.00" stroke="#555" stroke-width="1.4"/>
<text x="356.95" y="679.50" font-size="10.5" font-weight="bold" text-anchor="middle" fill="#000">*</text>
<text transform="translate(291.70 782.90) rotate(-90)" font-size="10.35" font-weight="bold" fill="#000">Relative expression (2<tspan font-size="8.2" dy="-5.6">-ΔΔCt</tspan><tspan dy="5.6">)</tspan></text>
<text x="485.00" y="632.90" font-size="10.2" font-weight="bold" text-anchor="middle" fill="#000">ADGRD1/GPR133</text>
<text x="485.00" y="643.60" font-size="9.3" font-weight="bold" text-anchor="middle" fill="#000">Caco-2</text>
<rect x="461.25" y="741.72" width="11.90" height="23.18" fill="#555555" stroke="#1c1c1c" stroke-width="1.5"/>
<rect x="481.25" y="742.47" width="11.90" height="22.43" fill="#9a9a9a" stroke="#1c1c1c" stroke-width="1.5"/>
<line x1="507.10" y1="696.11" x2="507.10" y2="715.05" stroke="#5a5a5a" stroke-width="1.0"/>
<line x1="503.80" y1="696.11" x2="510.40" y2="696.11" stroke="#5a5a5a" stroke-width="1.0"/>
<rect x="501.15" y="715.80" width="11.90" height="49.10" fill="#d8d8d8" stroke="#1c1c1c" stroke-width="1.5"/>
<line x1="507.10" y1="715.65" x2="507.10" y2="727.51" stroke="#5a5a5a" stroke-width="1.0"/>
<line x1="503.80" y1="727.51" x2="510.40" y2="727.51" stroke="#5a5a5a" stroke-width="1.0"/>
<circle cx="506.5" cy="677.4" r="1.25" fill="#fff" stroke="#aaa" stroke-width="0.5"/>
<circle cx="506.5" cy="702.8" r="1.25" fill="#fff" stroke="#aaa" stroke-width="0.5"/>
<circle cx="506.5" cy="707.5" r="1.25" fill="#fff" stroke="#aaa" stroke-width="0.5"/>
<circle cx="506.5" cy="722.4" r="1.25" fill="#fff" stroke="#aaa" stroke-width="0.5"/>
<circle cx="506.5" cy="733.2" r="1.25" fill="#fff" stroke="#aaa" stroke-width="0.5"/>
<circle cx="484.3" cy="746.2" r="1.25" fill="#fff" stroke="#aaa" stroke-width="0.5"/>
<circle cx="489.6" cy="745.7" r="1.25" fill="#fff" stroke="#aaa" stroke-width="0.5"/>
<circle cx="463.6" cy="739.6" r="1.25" fill="#fff" stroke="#aaa" stroke-width="0.5"/>
<circle cx="467.4" cy="739.3" r="1.25" fill="#fff" stroke="#aaa" stroke-width="0.5"/>
<circle cx="471.3" cy="739.6" r="1.25" fill="#fff" stroke="#aaa" stroke-width="0.5"/>
<circle cx="482.8" cy="739.8" r="1.25" fill="#fff" stroke="#aaa" stroke-width="0.5"/>
<circle cx="487.0" cy="739.3" r="1.25" fill="#fff" stroke="#aaa" stroke-width="0.5"/>
<circle cx="491.6" cy="739.2" r="1.25" fill="#fff" stroke="#aaa" stroke-width="0.5"/>
<line x1="452.30" y1="664.90" x2="452.30" y2="765.60" stroke="#333" stroke-width="1.4"/>
<line x1="451.60" y1="764.90" x2="520.90" y2="764.90" stroke="#333" stroke-width="1.4"/>
<line x1="448.50" y1="764.90" x2="452.30" y2="764.90" stroke="#333" stroke-width="1.1"/>
<text x="447.70" y="767.60" font-size="7.5" font-weight="bold" text-anchor="end" fill="#000">0</text>
<line x1="448.50" y1="739.98" x2="452.30" y2="739.98" stroke="#333" stroke-width="1.1"/>
<text x="447.70" y="742.68" font-size="7.5" font-weight="bold" text-anchor="end" fill="#000">1</text>
<line x1="448.50" y1="715.05" x2="452.30" y2="715.05" stroke="#333" stroke-width="1.1"/>
<text x="447.70" y="717.75" font-size="7.5" font-weight="bold" text-anchor="end" fill="#000">2</text>
<line x1="448.50" y1="690.12" x2="452.30" y2="690.12" stroke="#333" stroke-width="1.1"/>
<text x="447.70" y="692.83" font-size="7.5" font-weight="bold" text-anchor="end" fill="#000">3</text>
<line x1="448.50" y1="665.20" x2="452.30" y2="665.20" stroke="#333" stroke-width="1.1"/>
<text x="447.70" y="667.90" font-size="7.5" font-weight="bold" text-anchor="end" fill="#000">4</text>
<line x1="467.20" y1="764.90" x2="467.20" y2="768.90" stroke="#333" stroke-width="1.1"/>
<text x="469.80" y="776.30" font-size="8.1" font-weight="bold" text-anchor="end" fill="#000" transform="rotate(-45 469.80 776.30)">0 hpi</text>
<line x1="487.20" y1="764.90" x2="487.20" y2="768.90" stroke="#333" stroke-width="1.1"/>
<text x="489.80" y="776.30" font-size="8.1" font-weight="bold" text-anchor="end" fill="#000" transform="rotate(-45 489.80 776.30)">6 hpi</text>
<line x1="507.10" y1="764.90" x2="507.10" y2="768.90" stroke="#333" stroke-width="1.1"/>
<text x="509.70" y="776.30" font-size="8.1" font-weight="bold" text-anchor="end" fill="#000" transform="rotate(-45 509.70 776.30)">12 hpi</text>
<line x1="467.40" y1="658.40" x2="506.80" y2="658.40" stroke="#555" stroke-width="1.4"/>
<text x="487.10" y="658.90" font-size="10.5" font-weight="bold" text-anchor="middle" fill="#000">**</text>
<line x1="487.00" y1="672.00" x2="506.80" y2="672.00" stroke="#555" stroke-width="1.4"/>
<text x="496.90" y="672.50" font-size="10.5" font-weight="bold" text-anchor="middle" fill="#000">**</text>
<text transform="translate(433.80 782.90) rotate(-90)" font-size="10.35" font-weight="bold" fill="#000">Relative expression (2<tspan font-size="8.2" dy="-5.6">-ΔΔCt</tspan><tspan dy="5.6">)</tspan></text>
</svg>
</body></html>
